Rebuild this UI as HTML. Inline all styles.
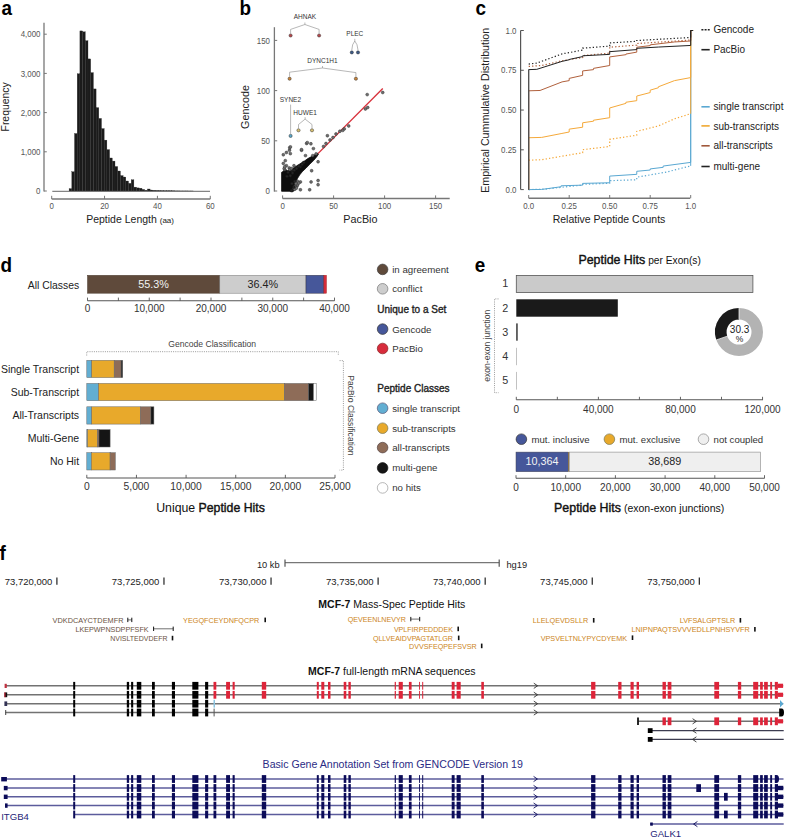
<!DOCTYPE html>
<html><head><meta charset="utf-8"><style>
html,body{margin:0;padding:0;background:#fff;}
svg{display:block;font-family:"Liberation Sans",sans-serif;}
</style></head><body>
<svg width="785" height="837" viewBox="0 0 785 837">
<rect width="785" height="837" fill="#fff"/>
<text transform="translate(1.50,15.30) scale(0.9,1)" font-size="21" fill="#000" text-anchor="start" font-weight="bold" >a</text><text transform="translate(239.50,15.30) scale(0.9,1)" font-size="21" fill="#000" text-anchor="start" font-weight="bold" >b</text><text transform="translate(475.50,15.20) scale(0.9,1)" font-size="21" fill="#000" text-anchor="start" font-weight="bold" >c</text><text transform="translate(0.50,272.20) scale(0.9,1)" font-size="21" fill="#000" text-anchor="start" font-weight="bold" >d</text><text transform="translate(474.80,272.00) scale(0.9,1)" font-size="21" fill="#000" text-anchor="start" font-weight="bold" >e</text><text transform="translate(-0.50,560.20) scale(0.9,1)" font-size="21" fill="#000" text-anchor="start" font-weight="bold" >f</text><line x1="44.00" y1="22.80" x2="44.00" y2="191.60" stroke="#777" stroke-width="1.3" /><line x1="44.00" y1="191.00" x2="46.80" y2="191.00" stroke="#777" stroke-width="1" /><text transform="translate(40.50,194.20) scale(0.88,1)" font-size="9" fill="#555" text-anchor="end" font-weight="normal" >0</text><line x1="44.00" y1="151.80" x2="46.80" y2="151.80" stroke="#777" stroke-width="1" /><text transform="translate(40.50,155.00) scale(0.88,1)" font-size="9" fill="#555" text-anchor="end" font-weight="normal" >1,000</text><line x1="44.00" y1="112.60" x2="46.80" y2="112.60" stroke="#777" stroke-width="1" /><text transform="translate(40.50,115.80) scale(0.88,1)" font-size="9" fill="#555" text-anchor="end" font-weight="normal" >2,000</text><line x1="44.00" y1="73.40" x2="46.80" y2="73.40" stroke="#777" stroke-width="1" /><text transform="translate(40.50,76.60) scale(0.88,1)" font-size="9" fill="#555" text-anchor="end" font-weight="normal" >3,000</text><line x1="44.00" y1="34.20" x2="46.80" y2="34.20" stroke="#777" stroke-width="1" /><text transform="translate(40.50,37.40) scale(0.88,1)" font-size="9" fill="#555" text-anchor="end" font-weight="normal" >4,000</text><rect x="69.10" y="188.65" width="2.70" height="2.35" fill="#1b1b1b" stroke="#303030" stroke-width="0.3" /><rect x="71.80" y="171.71" width="2.70" height="19.29" fill="#1b1b1b" stroke="#303030" stroke-width="0.3" /><rect x="74.50" y="133.49" width="2.70" height="57.51" fill="#1b1b1b" stroke="#303030" stroke-width="0.3" /><rect x="77.20" y="73.79" width="2.70" height="117.21" fill="#1b1b1b" stroke="#303030" stroke-width="0.3" /><rect x="79.90" y="30.91" width="2.70" height="160.09" fill="#1b1b1b" stroke="#303030" stroke-width="0.3" /><rect x="82.60" y="31.81" width="2.70" height="159.19" fill="#1b1b1b" stroke="#303030" stroke-width="0.3" /><rect x="85.30" y="40.71" width="2.70" height="150.29" fill="#1b1b1b" stroke="#303030" stroke-width="0.3" /><rect x="88.00" y="58.90" width="2.70" height="132.10" fill="#1b1b1b" stroke="#303030" stroke-width="0.3" /><rect x="90.70" y="72.62" width="2.70" height="118.38" fill="#1b1b1b" stroke="#303030" stroke-width="0.3" /><rect x="93.40" y="88.92" width="2.70" height="102.08" fill="#1b1b1b" stroke="#303030" stroke-width="0.3" /><rect x="96.10" y="107.62" width="2.70" height="83.38" fill="#1b1b1b" stroke="#303030" stroke-width="0.3" /><rect x="98.80" y="118.40" width="2.70" height="72.60" fill="#1b1b1b" stroke="#303030" stroke-width="0.3" /><rect x="101.50" y="128.59" width="2.70" height="62.41" fill="#1b1b1b" stroke="#303030" stroke-width="0.3" /><rect x="104.20" y="140.12" width="2.70" height="50.88" fill="#1b1b1b" stroke="#303030" stroke-width="0.3" /><rect x="106.90" y="149.60" width="2.70" height="41.40" fill="#1b1b1b" stroke="#303030" stroke-width="0.3" /><rect x="109.60" y="157.99" width="2.70" height="33.01" fill="#1b1b1b" stroke="#303030" stroke-width="0.3" /><rect x="112.30" y="161.09" width="2.70" height="29.91" fill="#1b1b1b" stroke="#303030" stroke-width="0.3" /><rect x="115.00" y="166.50" width="2.70" height="24.50" fill="#1b1b1b" stroke="#303030" stroke-width="0.3" /><rect x="117.70" y="171.01" width="2.70" height="19.99" fill="#1b1b1b" stroke="#303030" stroke-width="0.3" /><rect x="120.40" y="175.59" width="2.70" height="15.41" fill="#1b1b1b" stroke="#303030" stroke-width="0.3" /><rect x="123.10" y="177.01" width="2.70" height="13.99" fill="#1b1b1b" stroke="#303030" stroke-width="0.3" /><rect x="125.80" y="181.00" width="2.70" height="10.00" fill="#1b1b1b" stroke="#303030" stroke-width="0.3" /><rect x="128.50" y="183.32" width="2.70" height="7.68" fill="#1b1b1b" stroke="#303030" stroke-width="0.3" /><rect x="131.20" y="179.79" width="2.70" height="11.21" fill="#1b1b1b" stroke="#303030" stroke-width="0.3" /><rect x="133.90" y="187.12" width="2.70" height="3.88" fill="#1b1b1b" stroke="#303030" stroke-width="0.3" /><rect x="136.60" y="187.90" width="2.70" height="3.10" fill="#1b1b1b" stroke="#303030" stroke-width="0.3" /><rect x="139.30" y="188.22" width="2.70" height="2.78" fill="#1b1b1b" stroke="#303030" stroke-width="0.3" /><rect x="142.00" y="189.39" width="2.70" height="1.61" fill="#1b1b1b" stroke="#303030" stroke-width="0.3" /><rect x="144.70" y="190.22" width="2.70" height="0.78" fill="#1b1b1b" stroke="#303030" stroke-width="0.3" /><rect x="147.40" y="189.00" width="2.70" height="2.00" fill="#1b1b1b" stroke="#303030" stroke-width="0.3" /><rect x="150.10" y="190.02" width="2.70" height="0.98" fill="#1b1b1b" stroke="#303030" stroke-width="0.3" /><rect x="152.80" y="190.29" width="2.70" height="0.71" fill="#1b1b1b" stroke="#303030" stroke-width="0.3" /><rect x="155.50" y="190.45" width="2.70" height="0.55" fill="#1b1b1b" stroke="#303030" stroke-width="0.3" /><rect x="158.20" y="190.57" width="2.70" height="0.43" fill="#1b1b1b" stroke="#303030" stroke-width="0.3" /><rect x="160.90" y="190.65" width="2.70" height="0.35" fill="#1b1b1b" stroke="#303030" stroke-width="0.3" /><rect x="163.60" y="190.73" width="2.70" height="0.27" fill="#1b1b1b" stroke="#303030" stroke-width="0.3" /><rect x="166.30" y="190.76" width="2.70" height="0.24" fill="#1b1b1b" stroke="#303030" stroke-width="0.3" /><rect x="169.00" y="190.80" width="2.70" height="0.20" fill="#1b1b1b" stroke="#303030" stroke-width="0.3" /><rect x="171.70" y="190.84" width="2.70" height="0.16" fill="#1b1b1b" stroke="#303030" stroke-width="0.3" /><rect x="174.40" y="190.88" width="2.70" height="0.12" fill="#1b1b1b" stroke="#303030" stroke-width="0.3" /><rect x="177.10" y="190.88" width="2.70" height="0.12" fill="#1b1b1b" stroke="#303030" stroke-width="0.3" /><rect x="179.80" y="190.92" width="2.70" height="0.08" fill="#1b1b1b" stroke="#303030" stroke-width="0.3" /><rect x="182.50" y="190.92" width="2.70" height="0.08" fill="#1b1b1b" stroke="#303030" stroke-width="0.3" /><rect x="185.20" y="190.92" width="2.70" height="0.08" fill="#1b1b1b" stroke="#303030" stroke-width="0.3" /><rect x="187.90" y="190.96" width="2.70" height="0.04" fill="#1b1b1b" stroke="#303030" stroke-width="0.3" /><rect x="190.60" y="190.96" width="2.70" height="0.04" fill="#1b1b1b" stroke="#303030" stroke-width="0.3" /><line x1="52.30" y1="191.30" x2="210.00" y2="191.30" stroke="#555" stroke-width="0.9" /><line x1="51.70" y1="199.00" x2="210.30" y2="199.00" stroke="#777" stroke-width="1.4" /><line x1="51.70" y1="199.00" x2="51.70" y2="195.80" stroke="#777" stroke-width="1" /><text transform="translate(51.70,209.20) scale(0.88,1)" font-size="9" fill="#555" text-anchor="middle" font-weight="normal" >0</text><line x1="104.56" y1="199.00" x2="104.56" y2="195.80" stroke="#777" stroke-width="1" /><text transform="translate(104.56,209.20) scale(0.88,1)" font-size="9" fill="#555" text-anchor="middle" font-weight="normal" >20</text><line x1="157.42" y1="199.00" x2="157.42" y2="195.80" stroke="#777" stroke-width="1" /><text transform="translate(157.42,209.20) scale(0.88,1)" font-size="9" fill="#555" text-anchor="middle" font-weight="normal" >40</text><line x1="210.28" y1="199.00" x2="210.28" y2="195.80" stroke="#777" stroke-width="1" /><text transform="translate(210.28,209.20) scale(0.88,1)" font-size="9" fill="#555" text-anchor="middle" font-weight="normal" >60</text><text x="86.2" y="222.6" font-size="10.5" fill="#222">Peptide Length <tspan font-size="8">(aa)</tspan></text><text x="0.00" y="0.00" font-size="10.4" fill="#222" text-anchor="middle" font-weight="normal" transform="translate(8.7,106.9) rotate(-90)">Frequency</text><line x1="274.40" y1="27.20" x2="274.40" y2="191.60" stroke="#777" stroke-width="1.3" /><line x1="274.40" y1="191.00" x2="277.20" y2="191.00" stroke="#777" stroke-width="1" /><text transform="translate(270.00,194.20) scale(0.88,1)" font-size="9" fill="#555" text-anchor="end" font-weight="normal" >0</text><line x1="274.40" y1="140.80" x2="277.20" y2="140.80" stroke="#777" stroke-width="1" /><text transform="translate(270.00,144.00) scale(0.88,1)" font-size="9" fill="#555" text-anchor="end" font-weight="normal" >50</text><line x1="274.40" y1="90.60" x2="277.20" y2="90.60" stroke="#777" stroke-width="1" /><text transform="translate(270.00,93.80) scale(0.88,1)" font-size="9" fill="#555" text-anchor="end" font-weight="normal" >100</text><line x1="274.40" y1="40.40" x2="277.20" y2="40.40" stroke="#777" stroke-width="1" /><text transform="translate(270.00,43.60) scale(0.88,1)" font-size="9" fill="#555" text-anchor="end" font-weight="normal" >150</text><line x1="282.60" y1="198.60" x2="449.70" y2="198.60" stroke="#777" stroke-width="1.5" /><line x1="282.60" y1="198.60" x2="282.60" y2="195.40" stroke="#777" stroke-width="1" /><text transform="translate(282.60,208.80) scale(0.88,1)" font-size="9" fill="#555" text-anchor="middle" font-weight="normal" >0</text><line x1="333.60" y1="198.60" x2="333.60" y2="195.40" stroke="#777" stroke-width="1" /><text transform="translate(333.60,208.80) scale(0.88,1)" font-size="9" fill="#555" text-anchor="middle" font-weight="normal" >50</text><line x1="384.60" y1="198.60" x2="384.60" y2="195.40" stroke="#777" stroke-width="1" /><text transform="translate(384.60,208.80) scale(0.88,1)" font-size="9" fill="#555" text-anchor="middle" font-weight="normal" >100</text><line x1="435.60" y1="198.60" x2="435.60" y2="195.40" stroke="#777" stroke-width="1" /><text transform="translate(435.60,208.80) scale(0.88,1)" font-size="9" fill="#555" text-anchor="middle" font-weight="normal" >150</text><text x="360.40" y="222.50" font-size="10.8" fill="#222" text-anchor="middle" font-weight="normal" >PacBio</text><text x="0.00" y="0.00" font-size="10.8" fill="#222" text-anchor="middle" font-weight="normal" transform="translate(249.1,107) rotate(-90)">Gencode</text><line x1="282.60" y1="189.09" x2="382.76" y2="88.53" stroke="#d8303a" stroke-width="1.3" /><polygon points="281.6,191.3 281.6,172.3 282.8,171.6 285.1,169.4 287.4,170.6 290.5,170.2 294.4,167.3 298.3,164.9 302.2,162.4 304.8,160.8 307.8,158.6 311.5,156.6 314.5,154.8 317.4,153.4 318.4,154.2 317.0,156.4 313.8,160.3 309.9,164.1 306.1,168.0 302.2,171.8 299.6,175.0 297.6,178.3 295.6,182.6 294.2,187.2 292.6,191.3" fill="#0e0e0e" stroke="#0e0e0e" stroke-width="0.8"/><circle cx="283.33" cy="154.76" r="1.45" fill="#6e6e6e" stroke="#2a2a2a" stroke-width="0.45" /><circle cx="286.41" cy="152.52" r="1.45" fill="#6e6e6e" stroke="#2a2a2a" stroke-width="0.45" /><circle cx="290.33" cy="153.64" r="1.45" fill="#6e6e6e" stroke="#2a2a2a" stroke-width="0.45" /><circle cx="289.49" cy="150.28" r="1.45" fill="#6e6e6e" stroke="#2a2a2a" stroke-width="0.45" /><circle cx="301.54" cy="150.28" r="1.45" fill="#6e6e6e" stroke="#2a2a2a" stroke-width="0.45" /><circle cx="305.47" cy="155.61" r="1.45" fill="#6e6e6e" stroke="#2a2a2a" stroke-width="0.45" /><circle cx="312.75" cy="155.61" r="1.45" fill="#6e6e6e" stroke="#2a2a2a" stroke-width="0.45" /><circle cx="316.12" cy="153.92" r="1.45" fill="#6e6e6e" stroke="#2a2a2a" stroke-width="0.45" /><circle cx="285.29" cy="160.65" r="1.45" fill="#6e6e6e" stroke="#2a2a2a" stroke-width="0.45" /><circle cx="283.33" cy="163.45" r="1.45" fill="#6e6e6e" stroke="#2a2a2a" stroke-width="0.45" /><circle cx="286.41" cy="165.70" r="1.45" fill="#6e6e6e" stroke="#2a2a2a" stroke-width="0.45" /><circle cx="293.98" cy="165.70" r="1.45" fill="#6e6e6e" stroke="#2a2a2a" stroke-width="0.45" /><circle cx="289.21" cy="167.94" r="1.45" fill="#6e6e6e" stroke="#2a2a2a" stroke-width="0.45" /><circle cx="303.78" cy="162.61" r="1.45" fill="#262626" stroke="#111" stroke-width="0.45" /><circle cx="302.10" cy="164.57" r="1.45" fill="#262626" stroke="#111" stroke-width="0.45" /><circle cx="300.42" cy="166.82" r="1.45" fill="#262626" stroke="#111" stroke-width="0.45" /><circle cx="284.73" cy="169.62" r="1.45" fill="#6e6e6e" stroke="#2a2a2a" stroke-width="0.45" /><circle cx="292.01" cy="170.74" r="1.45" fill="#262626" stroke="#111" stroke-width="0.45" /><circle cx="290.33" cy="175.78" r="1.45" fill="#262626" stroke="#111" stroke-width="0.45" /><circle cx="311.63" cy="170.74" r="1.45" fill="#6e6e6e" stroke="#2a2a2a" stroke-width="0.45" /><circle cx="318.08" cy="161.77" r="1.45" fill="#6e6e6e" stroke="#2a2a2a" stroke-width="0.45" /><circle cx="311.07" cy="181.95" r="1.45" fill="#6e6e6e" stroke="#2a2a2a" stroke-width="0.45" /><circle cx="318.08" cy="180.55" r="1.45" fill="#6e6e6e" stroke="#2a2a2a" stroke-width="0.45" /><circle cx="318.08" cy="184.75" r="1.45" fill="#6e6e6e" stroke="#2a2a2a" stroke-width="0.45" /><circle cx="300.42" cy="181.95" r="1.45" fill="#6e6e6e" stroke="#2a2a2a" stroke-width="0.45" /><circle cx="297.62" cy="181.39" r="1.45" fill="#6e6e6e" stroke="#2a2a2a" stroke-width="0.45" /><circle cx="297.06" cy="185.87" r="1.45" fill="#6e6e6e" stroke="#2a2a2a" stroke-width="0.45" /><circle cx="293.70" cy="189.24" r="1.45" fill="#6e6e6e" stroke="#2a2a2a" stroke-width="0.45" /><circle cx="300.42" cy="189.80" r="1.45" fill="#6e6e6e" stroke="#2a2a2a" stroke-width="0.45" /><circle cx="309.67" cy="189.80" r="1.45" fill="#6e6e6e" stroke="#2a2a2a" stroke-width="0.45" /><circle cx="294.82" cy="186.43" r="1.45" fill="#6e6e6e" stroke="#2a2a2a" stroke-width="0.45" /><circle cx="288.09" cy="172.42" r="1.45" fill="#262626" stroke="#111" stroke-width="0.45" /><circle cx="292.57" cy="172.98" r="1.45" fill="#262626" stroke="#111" stroke-width="0.45" /><circle cx="296.50" cy="168.50" r="1.45" fill="#262626" stroke="#111" stroke-width="0.45" /><circle cx="289.77" cy="169.62" r="1.45" fill="#6e6e6e" stroke="#2a2a2a" stroke-width="0.45" /><circle cx="286.97" cy="176.35" r="1.45" fill="#262626" stroke="#111" stroke-width="0.45" /><circle cx="294.82" cy="181.39" r="1.45" fill="#262626" stroke="#111" stroke-width="0.45" /><circle cx="292.01" cy="183.63" r="1.45" fill="#262626" stroke="#111" stroke-width="0.45" /><circle cx="284.17" cy="168.50" r="1.45" fill="#6e6e6e" stroke="#2a2a2a" stroke-width="0.45" /><circle cx="291.45" cy="168.50" r="1.45" fill="#6e6e6e" stroke="#2a2a2a" stroke-width="0.45" /><circle cx="294.26" cy="170.18" r="1.45" fill="#262626" stroke="#111" stroke-width="0.45" /><circle cx="298.74" cy="166.26" r="1.45" fill="#262626" stroke="#111" stroke-width="0.45" /><circle cx="284.73" cy="166.82" r="1.45" fill="#6e6e6e" stroke="#2a2a2a" stroke-width="0.45" /><circle cx="292.57" cy="190.36" r="1.45" fill="#262626" stroke="#111" stroke-width="0.45" /><circle cx="294.82" cy="189.24" r="1.45" fill="#6e6e6e" stroke="#2a2a2a" stroke-width="0.45" /><circle cx="296.50" cy="188.12" r="1.45" fill="#6e6e6e" stroke="#2a2a2a" stroke-width="0.45" /><circle cx="293.70" cy="187.00" r="1.45" fill="#262626" stroke="#111" stroke-width="0.45" /><circle cx="297.62" cy="184.75" r="1.45" fill="#6e6e6e" stroke="#2a2a2a" stroke-width="0.45" /><circle cx="295.94" cy="183.63" r="1.45" fill="#6e6e6e" stroke="#2a2a2a" stroke-width="0.45" /><circle cx="298.74" cy="183.07" r="1.45" fill="#6e6e6e" stroke="#2a2a2a" stroke-width="0.45" /><circle cx="291.45" cy="190.64" r="1.45" fill="#262626" stroke="#111" stroke-width="0.45" /><circle cx="327.40" cy="135.70" r="1.45" fill="#6e6e6e" stroke="#2a2a2a" stroke-width="0.45" /><circle cx="306.60" cy="143.50" r="1.45" fill="#6e6e6e" stroke="#2a2a2a" stroke-width="0.45" /><circle cx="307.30" cy="142.60" r="1.45" fill="#6e6e6e" stroke="#2a2a2a" stroke-width="0.45" /><circle cx="310.90" cy="143.80" r="1.45" fill="#6e6e6e" stroke="#2a2a2a" stroke-width="0.45" /><circle cx="289.70" cy="147.80" r="1.45" fill="#6e6e6e" stroke="#2a2a2a" stroke-width="0.45" /><circle cx="290.40" cy="146.90" r="1.45" fill="#6e6e6e" stroke="#2a2a2a" stroke-width="0.45" /><circle cx="313.40" cy="148.60" r="1.45" fill="#6e6e6e" stroke="#2a2a2a" stroke-width="0.45" /><circle cx="301.50" cy="149.60" r="1.45" fill="#6e6e6e" stroke="#2a2a2a" stroke-width="0.45" /><circle cx="367.20" cy="94.60" r="1.45" fill="#6e6e6e" stroke="#2a2a2a" stroke-width="0.45" /><circle cx="382.70" cy="92.50" r="1.45" fill="#6e6e6e" stroke="#2a2a2a" stroke-width="0.45" /><circle cx="365.40" cy="109.00" r="1.45" fill="#6e6e6e" stroke="#2a2a2a" stroke-width="0.45" /><circle cx="367.70" cy="107.50" r="1.45" fill="#6e6e6e" stroke="#2a2a2a" stroke-width="0.45" /><circle cx="348.70" cy="126.00" r="1.45" fill="#6e6e6e" stroke="#2a2a2a" stroke-width="0.45" /><circle cx="344.30" cy="128.90" r="1.45" fill="#6e6e6e" stroke="#2a2a2a" stroke-width="0.45" /><circle cx="342.80" cy="130.40" r="1.45" fill="#6e6e6e" stroke="#2a2a2a" stroke-width="0.45" /><circle cx="339.90" cy="131.30" r="1.45" fill="#6e6e6e" stroke="#2a2a2a" stroke-width="0.45" /><circle cx="336.00" cy="134.00" r="1.45" fill="#6e6e6e" stroke="#2a2a2a" stroke-width="0.45" /><circle cx="333.00" cy="137.50" r="1.45" fill="#6e6e6e" stroke="#2a2a2a" stroke-width="0.45" /><circle cx="330.00" cy="140.00" r="1.45" fill="#6e6e6e" stroke="#2a2a2a" stroke-width="0.45" /><circle cx="326.00" cy="143.50" r="1.45" fill="#6e6e6e" stroke="#2a2a2a" stroke-width="0.45" /><circle cx="323.50" cy="146.50" r="1.45" fill="#6e6e6e" stroke="#2a2a2a" stroke-width="0.45" /><text transform="translate(304.90,19.40) scale(0.93,1)" font-size="7" fill="#333" text-anchor="middle" font-weight="normal" >AHNAK</text><polyline points="290.6,33.5 290.6,29.4 304.9,24.5 319.1,29.4 319.1,33.5" fill="none" stroke="#888" stroke-width="0.6"/><line x1="304.90" y1="24.50" x2="304.90" y2="22.50" stroke="#888" stroke-width="0.6" /><circle cx="290.60" cy="35.50" r="1.6" fill="#b5474a" stroke="#333" stroke-width="0.5" /><circle cx="319.10" cy="35.50" r="1.6" fill="#b5474a" stroke="#333" stroke-width="0.5" /><text transform="translate(354.80,36.20) scale(0.93,1)" font-size="7" fill="#333" text-anchor="middle" font-weight="normal" >PLEC</text><path d="M354.8,38.8 L354.8,41 Q352,44 351.8,50 M354.8,41 Q357.6,44 358,50" fill="none" stroke="#888" stroke-width="0.6"/><circle cx="351.80" cy="52.40" r="1.6" fill="#3c5a88" stroke="#333" stroke-width="0.5" /><circle cx="358.00" cy="52.40" r="1.6" fill="#3c5a88" stroke="#333" stroke-width="0.5" /><text transform="translate(322.50,63.00) scale(0.93,1)" font-size="7" fill="#333" text-anchor="middle" font-weight="normal" >DYNC1H1</text><polyline points="289.6,76.5 289.6,72.2 322.5,68 355.9,72.6 355.9,76.5" fill="none" stroke="#888" stroke-width="0.6"/><line x1="322.50" y1="68.00" x2="322.50" y2="66.00" stroke="#888" stroke-width="0.6" /><circle cx="289.60" cy="78.70" r="1.6" fill="#c8843a" stroke="#333" stroke-width="0.5" /><circle cx="355.90" cy="78.70" r="1.6" fill="#c8843a" stroke="#333" stroke-width="0.5" /><text transform="translate(290.40,102.00) scale(0.93,1)" font-size="7" fill="#333" text-anchor="middle" font-weight="normal" >SYNE2</text><line x1="290.60" y1="104.60" x2="290.60" y2="133.80" stroke="#888" stroke-width="0.6" /><circle cx="290.60" cy="135.90" r="1.6" fill="#5aa6c8" stroke="#333" stroke-width="0.5" /><text transform="translate(305.10,114.50) scale(0.93,1)" font-size="7" fill="#333" text-anchor="middle" font-weight="normal" >HUWE1</text><polyline points="298.5,128.3 298.5,124.5 305.1,119.1 312,124.5 312,128.3" fill="none" stroke="#888" stroke-width="0.6"/><line x1="305.10" y1="119.10" x2="305.10" y2="117.20" stroke="#888" stroke-width="0.6" /><circle cx="298.50" cy="130.30" r="1.6" fill="#d8c070" stroke="#333" stroke-width="0.5" /><circle cx="312.00" cy="130.30" r="1.6" fill="#d8c070" stroke="#333" stroke-width="0.5" /><line x1="520.60" y1="30.50" x2="520.60" y2="189.60" stroke="#555" stroke-width="1.2" /><line x1="520.60" y1="189.60" x2="523.80" y2="189.60" stroke="#555" stroke-width="1" /><text transform="translate(516.50,192.80) scale(0.88,1)" font-size="9" fill="#555" text-anchor="end" font-weight="normal" >0.0</text><line x1="520.60" y1="149.82" x2="523.80" y2="149.82" stroke="#555" stroke-width="1" /><text transform="translate(516.50,153.02) scale(0.88,1)" font-size="9" fill="#555" text-anchor="end" font-weight="normal" >0.25</text><line x1="520.60" y1="110.05" x2="523.80" y2="110.05" stroke="#555" stroke-width="1" /><text transform="translate(516.50,113.25) scale(0.88,1)" font-size="9" fill="#555" text-anchor="end" font-weight="normal" >0.50</text><line x1="520.60" y1="70.28" x2="523.80" y2="70.28" stroke="#555" stroke-width="1" /><text transform="translate(516.50,73.48) scale(0.88,1)" font-size="9" fill="#555" text-anchor="end" font-weight="normal" >0.75</text><line x1="520.60" y1="30.50" x2="523.80" y2="30.50" stroke="#555" stroke-width="1" /><text transform="translate(516.50,33.70) scale(0.88,1)" font-size="9" fill="#555" text-anchor="end" font-weight="normal" >1.0</text><line x1="528.70" y1="198.20" x2="690.20" y2="198.20" stroke="#777" stroke-width="1.4" /><line x1="528.70" y1="198.20" x2="528.70" y2="195.00" stroke="#777" stroke-width="1" /><text transform="translate(528.70,208.80) scale(0.88,1)" font-size="9" fill="#555" text-anchor="middle" font-weight="normal" >0.0</text><line x1="569.20" y1="198.20" x2="569.20" y2="195.00" stroke="#777" stroke-width="1" /><text transform="translate(569.20,208.80) scale(0.88,1)" font-size="9" fill="#555" text-anchor="middle" font-weight="normal" >0.25</text><line x1="609.70" y1="198.20" x2="609.70" y2="195.00" stroke="#777" stroke-width="1" /><text transform="translate(609.70,208.80) scale(0.88,1)" font-size="9" fill="#555" text-anchor="middle" font-weight="normal" >0.50</text><line x1="650.20" y1="198.20" x2="650.20" y2="195.00" stroke="#777" stroke-width="1" /><text transform="translate(650.20,208.80) scale(0.88,1)" font-size="9" fill="#555" text-anchor="middle" font-weight="normal" >0.75</text><line x1="690.70" y1="198.20" x2="690.70" y2="195.00" stroke="#777" stroke-width="1" /><text transform="translate(690.70,208.80) scale(0.88,1)" font-size="9" fill="#555" text-anchor="middle" font-weight="normal" >1.0</text><text x="609.00" y="222.60" font-size="10.5" fill="#222" text-anchor="middle" font-weight="normal" >Relative Peptide Counts</text><text x="0.00" y="0.00" font-size="10.65" fill="#222" text-anchor="middle" font-weight="normal" transform="translate(489.2,110.3) rotate(-90)">Empirical Cummulative Distribution</text><line x1="690.70" y1="165.89" x2="690.70" y2="30.50" stroke="#5aa8d2" stroke-width="1"/><polyline points="528.70,189.60 544.90,189.12 569.20,186.42 582.65,185.15 582.65,184.35 609.70,183.24 609.70,180.69 636.75,179.74 636.75,177.19 666.40,172.10 690.70,165.89" fill="none" stroke="#5aa8d2" stroke-width="1.2" stroke-dasharray="1.3,2.1"/><polyline points="528.70,189.60 528.70,189.60 541.66,189.44 561.10,186.74 561.10,185.78 582.65,185.15 582.65,183.40 609.70,182.76 609.70,176.08 636.75,174.33 636.75,171.30 650.20,170.03 650.20,168.92 663.16,167.33 663.16,166.05 690.70,162.39 690.70,30.50 693.13,30.50" fill="none" stroke="#5aa8d2" stroke-width="1.0" /><line x1="690.70" y1="113.71" x2="690.70" y2="30.50" stroke="#f5a93a" stroke-width="1"/><polyline points="528.70,160.17 541.66,159.69 582.65,152.69 582.65,149.67 609.70,146.48 609.70,139.32 636.75,135.19 636.75,131.37 658.30,125.96 674.50,118.80 690.70,113.71" fill="none" stroke="#f5a93a" stroke-width="1.2" stroke-dasharray="1.3,2.1"/><polyline points="528.70,189.60 528.70,137.73 541.66,137.42 561.10,133.60 569.20,132.01 569.20,129.14 582.65,127.23 582.65,122.78 593.50,121.19 593.50,120.23 609.70,117.69 609.70,107.98 625.90,103.37 625.90,102.25 636.75,100.66 636.75,96.05 650.20,92.55 650.20,90.16 658.30,87.78 658.30,86.82 674.50,80.62 690.70,77.59 690.70,30.50 693.13,30.50" fill="none" stroke="#f5a93a" stroke-width="1.0" /><line x1="690.70" y1="40.05" x2="690.70" y2="30.50" stroke="#b0603c" stroke-width="1"/><polyline points="528.70,66.46 541.66,65.50 562.07,60.73 582.65,57.55 582.65,55.64 609.70,53.09 609.70,47.21 636.75,45.14 636.75,43.55 690.70,40.05" fill="none" stroke="#b0603c" stroke-width="1.2" stroke-dasharray="1.3,2.1"/><polyline points="528.70,189.60 528.70,90.80 540.04,90.48 562.07,81.89 569.20,80.62 569.20,78.39 582.65,75.37 582.65,70.91 593.50,69.64 593.50,68.37 609.70,65.50 609.70,56.91 625.90,54.68 625.90,54.05 636.75,52.14 636.75,47.21 650.20,45.61 650.20,44.82 674.50,41.96 690.70,41.00 690.70,30.50 693.13,30.50" fill="none" stroke="#b0603c" stroke-width="1.0" /><line x1="690.70" y1="37.50" x2="690.70" y2="30.50" stroke="#222" stroke-width="1"/><polyline points="528.70,64.07 536.80,63.12 562.07,53.89 582.65,50.07 582.65,48.16 609.70,46.09 609.70,42.91 636.75,41.32 636.75,40.52 690.70,37.50" fill="none" stroke="#222" stroke-width="1.2" stroke-dasharray="1.3,2.1"/><polyline points="528.70,189.60 528.70,69.64 536.80,69.32 562.07,61.37 569.20,59.77 569.20,59.46 582.65,56.59 582.65,55.80 609.70,54.37 609.70,51.66 636.75,49.59 636.75,48.32 658.30,47.05 690.70,45.46 690.70,30.50 693.13,30.50" fill="none" stroke="#222" stroke-width="1.0" /><line x1="528.70" y1="189.60" x2="528.70" y2="69.64" stroke="#555" stroke-width="1.0" /><line x1="701.4" y1="29.8" x2="709.7" y2="29.8" stroke="#222" stroke-width="1.5" stroke-dasharray="2,1.2"/><text x="713.40" y="33.40" font-size="10" fill="#222" text-anchor="start" font-weight="normal" >Gencode</text><line x1="701.40" y1="49.70" x2="709.70" y2="49.70" stroke="#222" stroke-width="1.6" /><text x="713.40" y="53.30" font-size="10" fill="#222" text-anchor="start" font-weight="normal" >PacBio</text><line x1="701.40" y1="106.80" x2="709.70" y2="106.80" stroke="#5aa8d2" stroke-width="1.6" /><text x="713.40" y="110.40" font-size="10" fill="#222" text-anchor="start" font-weight="normal" >single transcript</text><line x1="701.40" y1="125.90" x2="709.70" y2="125.90" stroke="#f0a830" stroke-width="1.6" /><text x="713.40" y="129.50" font-size="10" fill="#222" text-anchor="start" font-weight="normal" >sub-transcripts</text><line x1="701.40" y1="145.80" x2="709.70" y2="145.80" stroke="#a0583a" stroke-width="1.6" /><text x="713.40" y="149.40" font-size="10" fill="#222" text-anchor="start" font-weight="normal" >all-transcripts</text><line x1="701.40" y1="166.50" x2="709.70" y2="166.50" stroke="#222" stroke-width="1.6" /><text x="713.40" y="170.10" font-size="10" fill="#222" text-anchor="start" font-weight="normal" >multi-gene</text>
<text x="79.20" y="289.00" font-size="10.4" fill="#222" text-anchor="end" font-weight="normal" >All Classes</text><rect x="87.50" y="275.30" width="132.30" height="17.90" fill="#5f4a3b" stroke="#4a3a2e" stroke-width="0.5" /><rect x="219.80" y="275.30" width="86.20" height="17.90" fill="#cdcdcd" stroke="#777" stroke-width="0.5" /><rect x="306.00" y="275.30" width="17.90" height="17.90" fill="#46579a" stroke="#334" stroke-width="0.5" /><rect x="323.90" y="275.30" width="2.50" height="17.90" fill="#d72c3c" stroke="#a22" stroke-width="0.5" /><text x="153.60" y="288.40" font-size="10.8" fill="#f2f2f2" text-anchor="middle" font-weight="normal" >55.3%</text><text x="262.90" y="288.40" font-size="10.8" fill="#222" text-anchor="middle" font-weight="normal" >36.4%</text><line x1="87.50" y1="300.80" x2="334.50" y2="300.80" stroke="#555" stroke-width="1.1" /><line x1="87.50" y1="300.80" x2="87.50" y2="297.60" stroke="#555" stroke-width="0.9" /><line x1="118.38" y1="300.80" x2="118.38" y2="297.60" stroke="#555" stroke-width="0.9" /><line x1="149.25" y1="300.80" x2="149.25" y2="297.60" stroke="#555" stroke-width="0.9" /><line x1="180.12" y1="300.80" x2="180.12" y2="297.60" stroke="#555" stroke-width="0.9" /><line x1="211.00" y1="300.80" x2="211.00" y2="297.60" stroke="#555" stroke-width="0.9" /><line x1="241.88" y1="300.80" x2="241.88" y2="297.60" stroke="#555" stroke-width="0.9" /><line x1="272.75" y1="300.80" x2="272.75" y2="297.60" stroke="#555" stroke-width="0.9" /><line x1="303.62" y1="300.80" x2="303.62" y2="297.60" stroke="#555" stroke-width="0.9" /><line x1="334.50" y1="300.80" x2="334.50" y2="297.60" stroke="#555" stroke-width="0.9" /><text x="87.50" y="312.20" font-size="10" fill="#333" text-anchor="middle" font-weight="normal" >0</text><text x="149.25" y="312.20" font-size="10" fill="#333" text-anchor="middle" font-weight="normal" >10,000</text><text x="211.00" y="312.20" font-size="10" fill="#333" text-anchor="middle" font-weight="normal" >20,000</text><text x="272.75" y="312.20" font-size="10" fill="#333" text-anchor="middle" font-weight="normal" >30,000</text><text x="334.50" y="312.20" font-size="10" fill="#333" text-anchor="middle" font-weight="normal" >40,000</text><rect x="86.80" y="360.30" width="4.90" height="17.30" fill="#62aed2" stroke="#666" stroke-width="0.5" /><rect x="91.70" y="360.30" width="22.50" height="17.30" fill="#e8a92b" stroke="#666" stroke-width="0.5" /><rect x="114.20" y="360.30" width="6.90" height="17.30" fill="#8e6c58" stroke="#666" stroke-width="0.5" /><rect x="121.10" y="360.30" width="1.60" height="17.30" fill="#151515" stroke="#666" stroke-width="0.5" /><text x="79.10" y="372.50" font-size="10.5" fill="#222" text-anchor="end" font-weight="normal" >Single Transcript</text><rect x="86.80" y="383.40" width="11.80" height="17.30" fill="#62aed2" stroke="#666" stroke-width="0.5" /><rect x="98.60" y="383.40" width="185.70" height="17.30" fill="#e8a92b" stroke="#666" stroke-width="0.5" /><rect x="284.30" y="383.40" width="24.20" height="17.30" fill="#8e6c58" stroke="#666" stroke-width="0.5" /><rect x="308.50" y="383.40" width="5.10" height="17.30" fill="#151515" stroke="#666" stroke-width="0.5" /><rect x="313.60" y="383.40" width="2.60" height="17.30" fill="#fff" stroke="#666" stroke-width="0.5" /><text x="79.10" y="395.60" font-size="10.5" fill="#222" text-anchor="end" font-weight="normal" >Sub-Transcript</text><rect x="86.80" y="406.80" width="4.90" height="17.30" fill="#62aed2" stroke="#666" stroke-width="0.5" /><rect x="91.70" y="406.80" width="48.60" height="17.30" fill="#e8a92b" stroke="#666" stroke-width="0.5" /><rect x="140.30" y="406.80" width="10.60" height="17.30" fill="#8e6c58" stroke="#666" stroke-width="0.5" /><rect x="150.90" y="406.80" width="3.00" height="17.30" fill="#151515" stroke="#666" stroke-width="0.5" /><text x="79.10" y="419.00" font-size="10.5" fill="#222" text-anchor="end" font-weight="normal" >All-Transcripts</text><rect x="86.80" y="429.70" width="0.80" height="17.30" fill="#62aed2" stroke="#666" stroke-width="0.5" /><rect x="87.60" y="429.70" width="9.90" height="17.30" fill="#e8a92b" stroke="#666" stroke-width="0.5" /><rect x="97.50" y="429.70" width="1.50" height="17.30" fill="#8e6c58" stroke="#666" stroke-width="0.5" /><rect x="99.00" y="429.70" width="11.10" height="17.30" fill="#151515" stroke="#666" stroke-width="0.5" /><text x="79.10" y="441.90" font-size="10.5" fill="#222" text-anchor="end" font-weight="normal" >Multi-Gene</text><rect x="86.80" y="452.70" width="4.50" height="17.30" fill="#62aed2" stroke="#666" stroke-width="0.5" /><rect x="91.30" y="452.70" width="18.80" height="17.30" fill="#e8a92b" stroke="#666" stroke-width="0.5" /><rect x="110.10" y="452.70" width="5.20" height="17.30" fill="#8e6c58" stroke="#666" stroke-width="0.5" /><text x="79.10" y="464.90" font-size="10.5" fill="#222" text-anchor="end" font-weight="normal" >No Hit</text><line x1="86.80" y1="478.00" x2="335.00" y2="478.00" stroke="#555" stroke-width="1.1" /><line x1="86.80" y1="478.00" x2="86.80" y2="474.80" stroke="#555" stroke-width="0.9" /><text x="86.80" y="490.40" font-size="10.3" fill="#333" text-anchor="middle" font-weight="normal" >0</text><line x1="136.44" y1="478.00" x2="136.44" y2="474.80" stroke="#555" stroke-width="0.9" /><text x="136.44" y="490.40" font-size="10.3" fill="#333" text-anchor="middle" font-weight="normal" >5,000</text><line x1="186.08" y1="478.00" x2="186.08" y2="474.80" stroke="#555" stroke-width="0.9" /><text x="186.08" y="490.40" font-size="10.3" fill="#333" text-anchor="middle" font-weight="normal" >10,000</text><line x1="235.72" y1="478.00" x2="235.72" y2="474.80" stroke="#555" stroke-width="0.9" /><text x="235.72" y="490.40" font-size="10.3" fill="#333" text-anchor="middle" font-weight="normal" >15,000</text><line x1="285.36" y1="478.00" x2="285.36" y2="474.80" stroke="#555" stroke-width="0.9" /><text x="285.36" y="490.40" font-size="10.3" fill="#333" text-anchor="middle" font-weight="normal" >20,000</text><line x1="335.00" y1="478.00" x2="335.00" y2="474.80" stroke="#555" stroke-width="0.9" /><text x="335.00" y="490.40" font-size="10.3" fill="#333" text-anchor="middle" font-weight="normal" >25,000</text><text x="156.2" y="511.6" font-size="12.3" fill="#111">Unique <tspan stroke="#111" stroke-width="0.4">Peptide Hits</tspan></text><polyline points="86.7,355.5 86.7,351.7 338.3,351.7 338.3,355.5" fill="none" stroke="#808080" stroke-width="0.8" stroke-dasharray="1,1.2"/><text x="212.20" y="347.00" font-size="8.6" fill="#444" text-anchor="middle" font-weight="normal" >Gencode Classification</text><polyline points="339.6,360.6 343.4,360.6 343.4,470.1 339.6,470.1" fill="none" stroke="#808080" stroke-width="0.8" stroke-dasharray="1,1.2"/><text x="0.00" y="0.00" font-size="8.6" fill="#444" text-anchor="middle" font-weight="normal" transform="translate(348.2,415.4) rotate(90)">PacBio Classification</text><circle cx="382.60" cy="269.40" r="5.3" fill="#5f4a3b" stroke="#444" stroke-width="0.7" /><text x="392.20" y="272.90" font-size="9.7" fill="#333" text-anchor="start" font-weight="normal" >in agreement</text><circle cx="382.60" cy="288.80" r="5.3" fill="#cdcdcd" stroke="#777" stroke-width="0.7" /><text x="392.20" y="292.30" font-size="9.7" fill="#333" text-anchor="start" font-weight="normal" >conflict</text><circle cx="382.60" cy="329.10" r="5.3" fill="#46579a" stroke="#333" stroke-width="0.7" /><text x="392.20" y="332.60" font-size="9.7" fill="#333" text-anchor="start" font-weight="normal" >Gencode</text><circle cx="382.60" cy="348.50" r="5.3" fill="#d72c3c" stroke="#822" stroke-width="0.7" /><text x="392.20" y="352.00" font-size="9.7" fill="#333" text-anchor="start" font-weight="normal" >PacBio</text><circle cx="382.60" cy="408.20" r="5.3" fill="#62aed2" stroke="#557" stroke-width="0.7" /><text x="392.20" y="411.70" font-size="9.7" fill="#333" text-anchor="start" font-weight="normal" >single transcript</text><circle cx="382.60" cy="428.20" r="5.3" fill="#e8a92b" stroke="#775" stroke-width="0.7" /><text x="392.20" y="431.70" font-size="9.7" fill="#333" text-anchor="start" font-weight="normal" >sub-transcripts</text><circle cx="382.60" cy="447.60" r="5.3" fill="#8e6c58" stroke="#544" stroke-width="0.7" /><text x="392.20" y="451.10" font-size="9.7" fill="#333" text-anchor="start" font-weight="normal" >all-transcripts</text><circle cx="382.60" cy="467.90" r="5.3" fill="#151515" stroke="#111" stroke-width="0.7" /><text x="392.20" y="471.40" font-size="9.7" fill="#333" text-anchor="start" font-weight="normal" >multi-gene</text><circle cx="382.60" cy="487.90" r="5.3" fill="#fff" stroke="#999" stroke-width="0.7" /><text x="392.20" y="491.40" font-size="9.7" fill="#333" text-anchor="start" font-weight="normal" >no hits</text><text x="377.30" y="312.70" font-size="10" fill="#222" text-anchor="start" font-weight="normal" stroke="#222" stroke-width="0.35">Unique to a Set</text><text x="377.30" y="391.50" font-size="10" fill="#222" text-anchor="start" font-weight="normal" stroke="#222" stroke-width="0.35">Peptide Classes</text><text x="578.4" y="263.6" font-size="12.4" fill="#111"><tspan stroke="#111" stroke-width="0.4">Peptide Hits</tspan><tspan font-size="10.2" dx="3">per Exon(s)</tspan></text><rect x="516.30" y="275.50" width="236.60" height="16.90" fill="#cacaca" stroke="#555" stroke-width="0.8" /><rect x="516.30" y="299.30" width="101.50" height="17.40" fill="#1a1a1a" stroke="none" stroke-width="0" /><rect x="516.30" y="323.40" width="1.30" height="17.30" fill="#1a1a1a" stroke="none" stroke-width="0" /><rect x="516.30" y="347.80" width="0.60" height="17.40" fill="#999" stroke="none" stroke-width="0" /><rect x="516.30" y="371.90" width="0.60" height="17.70" fill="#999" stroke="none" stroke-width="0" /><text x="505.30" y="287.00" font-size="10.8" fill="#333" text-anchor="middle" font-weight="normal" >1</text><text x="505.30" y="311.50" font-size="10.8" fill="#333" text-anchor="middle" font-weight="normal" >2</text><text x="505.30" y="336.00" font-size="10.8" fill="#333" text-anchor="middle" font-weight="normal" >3</text><text x="505.30" y="359.80" font-size="10.8" fill="#333" text-anchor="middle" font-weight="normal" >4</text><text x="505.30" y="383.90" font-size="10.8" fill="#333" text-anchor="middle" font-weight="normal" >5</text><polyline points="498.5,298.9 494.5,298.9 494.5,392.7 498.5,392.7" fill="none" stroke="#808080" stroke-width="0.8" stroke-dasharray="1,1.2"/><text x="0.00" y="0.00" font-size="8.6" fill="#444" text-anchor="middle" font-weight="normal" transform="translate(490.3,345.8) rotate(-90)">exon-exon junction</text><line x1="516.30" y1="399.80" x2="763.00" y2="399.80" stroke="#555" stroke-width="1.1" /><line x1="516.30" y1="399.80" x2="516.30" y2="396.80" stroke="#555" stroke-width="0.9" /><line x1="557.34" y1="399.80" x2="557.34" y2="396.80" stroke="#555" stroke-width="0.9" /><line x1="598.38" y1="399.80" x2="598.38" y2="396.80" stroke="#555" stroke-width="0.9" /><line x1="639.42" y1="399.80" x2="639.42" y2="396.80" stroke="#555" stroke-width="0.9" /><line x1="680.46" y1="399.80" x2="680.46" y2="396.80" stroke="#555" stroke-width="0.9" /><line x1="721.50" y1="399.80" x2="721.50" y2="396.80" stroke="#555" stroke-width="0.9" /><line x1="762.54" y1="399.80" x2="762.54" y2="396.80" stroke="#555" stroke-width="0.9" /><text x="516.30" y="412.60" font-size="10" fill="#333" text-anchor="middle" font-weight="normal" >0</text><text x="598.38" y="412.60" font-size="10" fill="#333" text-anchor="middle" font-weight="normal" >40,000</text><text x="680.46" y="412.60" font-size="10" fill="#333" text-anchor="middle" font-weight="normal" >80,000</text><text x="762.54" y="412.60" font-size="10" fill="#333" text-anchor="middle" font-weight="normal" >120,000</text><circle cx="739.00" cy="332.10" r="18.25" fill="none" stroke="#b3b3b3" stroke-width="11.5" /><path d="M739.00,313.85 A18.25,18.25 0 0 0 721.75,338.07" fill="none" stroke="#1a1a1a" stroke-width="11.5"/><line x1="739.00" y1="319.10" x2="739.00" y2="307.60" stroke="#fff" stroke-width="0.7" /><line x1="727.47" y1="336.09" x2="716.03" y2="340.04" stroke="#fff" stroke-width="0.7" /><text x="739.60" y="332.60" font-size="10" fill="#222" text-anchor="middle" font-weight="normal" >30.3</text><text x="739.60" y="342.00" font-size="8.5" fill="#222" text-anchor="middle" font-weight="normal" >%</text><circle cx="521.40" cy="439.20" r="5.3" fill="#46579a" stroke="#333" stroke-width="0.7" /><text x="531.50" y="443.00" font-size="9.6" fill="#333" text-anchor="start" font-weight="normal" >mut. inclusive</text><circle cx="609.40" cy="439.20" r="5.3" fill="#e8a92b" stroke="#775" stroke-width="0.7" /><text x="619.50" y="443.00" font-size="9.6" fill="#333" text-anchor="start" font-weight="normal" >mut. exclusive</text><circle cx="703.50" cy="439.20" r="5.3" fill="#efefef" stroke="#888" stroke-width="0.7" /><text x="713.60" y="443.00" font-size="9.6" fill="#333" text-anchor="start" font-weight="normal" >not coupled</text><rect x="516.00" y="452.10" width="52.30" height="19.60" fill="#46579a" stroke="#445" stroke-width="0.5" /><rect x="568.30" y="452.10" width="1.00" height="19.60" fill="#8a6a2a" stroke="none" stroke-width="0" /><rect x="569.30" y="452.10" width="191.30" height="19.60" fill="#efefef" stroke="#888" stroke-width="0.6" /><text x="541.90" y="465.20" font-size="10.8" fill="#f4f4f4" text-anchor="middle" font-weight="normal" >10,364</text><text x="664.70" y="465.20" font-size="10.8" fill="#222" text-anchor="middle" font-weight="normal" >38,689</text><line x1="516.00" y1="478.30" x2="764.50" y2="478.30" stroke="#555" stroke-width="1.1" /><line x1="516.00" y1="478.30" x2="516.00" y2="475.20" stroke="#555" stroke-width="0.9" /><text x="516.00" y="490.60" font-size="10" fill="#333" text-anchor="middle" font-weight="normal" >0</text><line x1="565.70" y1="478.30" x2="565.70" y2="475.20" stroke="#555" stroke-width="0.9" /><text x="565.70" y="490.60" font-size="10" fill="#333" text-anchor="middle" font-weight="normal" >10,000</text><line x1="615.40" y1="478.30" x2="615.40" y2="475.20" stroke="#555" stroke-width="0.9" /><text x="615.40" y="490.60" font-size="10" fill="#333" text-anchor="middle" font-weight="normal" >20,000</text><line x1="665.10" y1="478.30" x2="665.10" y2="475.20" stroke="#555" stroke-width="0.9" /><text x="665.10" y="490.60" font-size="10" fill="#333" text-anchor="middle" font-weight="normal" >30,000</text><line x1="714.80" y1="478.30" x2="714.80" y2="475.20" stroke="#555" stroke-width="0.9" /><text x="714.80" y="490.60" font-size="10" fill="#333" text-anchor="middle" font-weight="normal" >40,000</text><line x1="764.50" y1="478.30" x2="764.50" y2="475.20" stroke="#555" stroke-width="0.9" /><text x="764.50" y="490.60" font-size="10" fill="#333" text-anchor="middle" font-weight="normal" >50,000</text><text x="554.1" y="512.4" font-size="12.4" fill="#111"><tspan stroke="#111" stroke-width="0.4">Peptide Hits</tspan><tspan font-size="10.5" dx="3">(exon-exon junctions)</tspan></text>
<text x="279.70" y="567.60" font-size="9.3" fill="#222" text-anchor="end" font-weight="normal" >10 kb</text><line x1="285.00" y1="562.70" x2="499.20" y2="562.70" stroke="#777" stroke-width="1.3" /><line x1="285.00" y1="559.60" x2="285.00" y2="566.80" stroke="#555" stroke-width="1.2" /><line x1="499.20" y1="559.60" x2="499.20" y2="566.80" stroke="#555" stroke-width="1.2" /><text x="506.40" y="567.60" font-size="9.3" fill="#222" text-anchor="start" font-weight="normal" >hg19</text><text x="52.30" y="585.20" font-size="9.5" fill="#222" text-anchor="end" font-weight="normal" >73,720,000</text><line x1="56.90" y1="577.40" x2="56.90" y2="584.70" stroke="#222" stroke-width="1.2" /><text x="159.37" y="585.20" font-size="9.5" fill="#222" text-anchor="end" font-weight="normal" >73,725,000</text><line x1="163.97" y1="577.40" x2="163.97" y2="584.70" stroke="#222" stroke-width="1.2" /><text x="266.44" y="585.20" font-size="9.5" fill="#222" text-anchor="end" font-weight="normal" >73,730,000</text><line x1="271.04" y1="577.40" x2="271.04" y2="584.70" stroke="#222" stroke-width="1.2" /><text x="373.51" y="585.20" font-size="9.5" fill="#222" text-anchor="end" font-weight="normal" >73,735,000</text><line x1="378.11" y1="577.40" x2="378.11" y2="584.70" stroke="#222" stroke-width="1.2" /><text x="480.58" y="585.20" font-size="9.5" fill="#222" text-anchor="end" font-weight="normal" >73,740,000</text><line x1="485.18" y1="577.40" x2="485.18" y2="584.70" stroke="#222" stroke-width="1.2" /><text x="587.65" y="585.20" font-size="9.5" fill="#222" text-anchor="end" font-weight="normal" >73,745,000</text><line x1="592.25" y1="577.40" x2="592.25" y2="584.70" stroke="#222" stroke-width="1.2" /><text x="694.72" y="585.20" font-size="9.5" fill="#222" text-anchor="end" font-weight="normal" >73,750,000</text><line x1="699.32" y1="577.40" x2="699.32" y2="584.70" stroke="#222" stroke-width="1.2" /><text x="318.3" y="608.2" font-size="10.5" fill="#111"><tspan font-weight="bold">MCF-7</tspan> Mass-Spec Peptide Hits</text><text x="52.6" y="622.6999999999999" font-size="7.6" fill="#6a5242" textLength="70.9" lengthAdjust="spacingAndGlyphs">VDKDCAYCTDEMFR</text><line x1="127.80" y1="619.90" x2="131.80" y2="619.90" stroke="#333" stroke-width="0.7" /><line x1="127.80" y1="617.70" x2="127.80" y2="622.10" stroke="#111" stroke-width="1" /><line x1="131.80" y1="617.70" x2="131.80" y2="622.10" stroke="#111" stroke-width="1" /><text x="75.4" y="631.5999999999999" font-size="7.6" fill="#6a5242" textLength="73.2" lengthAdjust="spacingAndGlyphs">LKEPWPNSDPPFSFK</text><line x1="153.60" y1="628.80" x2="173.20" y2="628.80" stroke="#333" stroke-width="0.7" /><line x1="153.60" y1="626.60" x2="153.60" y2="631.00" stroke="#111" stroke-width="1" /><line x1="173.20" y1="626.60" x2="173.20" y2="631.00" stroke="#111" stroke-width="1" /><text x="110.2" y="640.9" font-size="7.6" fill="#6a5242" textLength="57.3" lengthAdjust="spacingAndGlyphs">NVISLTEDVDEFR</text><rect x="171.70" y="635.80" width="1.60" height="4.60" fill="#111" stroke="none" stroke-width="0" /><text x="183.1" y="622.6999999999999" font-size="7.6" fill="#cc8420" textLength="76.2" lengthAdjust="spacingAndGlyphs">YEGQFCEYDNFQCPR</text><rect x="264.40" y="617.60" width="1.60" height="4.60" fill="#111" stroke="none" stroke-width="0" /><text x="347.7" y="621.9" font-size="7.6" fill="#cc8420" textLength="58.2" lengthAdjust="spacingAndGlyphs">QEVEENLNEVYR</text><line x1="410.80" y1="619.10" x2="419.70" y2="619.10" stroke="#333" stroke-width="0.7" /><line x1="410.80" y1="616.90" x2="410.80" y2="621.30" stroke="#111" stroke-width="1" /><line x1="419.70" y1="616.90" x2="419.70" y2="621.30" stroke="#111" stroke-width="1" /><text x="393.9" y="631.6999999999999" font-size="7.6" fill="#cc8420" textLength="59.0" lengthAdjust="spacingAndGlyphs">VPLFIRPEDDDEK</text><rect x="457.40" y="626.60" width="1.60" height="4.60" fill="#111" stroke="none" stroke-width="0" /><text x="372.9" y="640.6999999999999" font-size="7.6" fill="#cc8420" textLength="80.0" lengthAdjust="spacingAndGlyphs">QLLVEAIDVPAGTATLGR</text><rect x="457.90" y="635.60" width="1.60" height="4.60" fill="#111" stroke="none" stroke-width="0" /><text x="409.1" y="648.6999999999999" font-size="7.6" fill="#cc8420" textLength="67.7" lengthAdjust="spacingAndGlyphs">DVVSFEQPEFSVSR</text><rect x="480.90" y="643.60" width="1.60" height="4.60" fill="#111" stroke="none" stroke-width="0" /><text x="532.7" y="623.0999999999999" font-size="7.6" fill="#cc8420" textLength="55.5" lengthAdjust="spacingAndGlyphs">LLELQEVDSLLR</text><rect x="592.90" y="618.00" width="1.60" height="4.60" fill="#111" stroke="none" stroke-width="0" /><text x="540.7" y="640.5" font-size="7.6" fill="#cc8420" textLength="86.4" lengthAdjust="spacingAndGlyphs">VPSVELTNLYPYCDYEMK</text><rect x="631.70" y="635.40" width="1.60" height="4.60" fill="#111" stroke="none" stroke-width="0" /><text x="679.7" y="623.0999999999999" font-size="7.6" fill="#cc8420" textLength="55.6" lengthAdjust="spacingAndGlyphs">LVFSALGPTSLR</text><rect x="739.60" y="618.00" width="1.60" height="4.60" fill="#111" stroke="none" stroke-width="0" /><text x="631.4" y="632.0999999999999" font-size="7.6" fill="#cc8420" textLength="118.4" lengthAdjust="spacingAndGlyphs">LNIPNPAQTSVVVEDLLPNHSYVFR</text><rect x="754.10" y="627.00" width="1.60" height="4.60" fill="#111" stroke="none" stroke-width="0" /><text x="308.1" y="675.3" font-size="10.5" fill="#111"><tspan font-weight="bold">MCF-7</tspan> full-length mRNA sequences</text><line x1="5.40" y1="685.80" x2="783.20" y2="685.80" stroke="#727272" stroke-width="1.5" /><polyline points="533.8,683.2 537.6,685.8 533.8,688.4" fill="none" stroke="#333" stroke-width="0.9"/><rect x="73.20" y="681.90" width="2.00" height="7.80" fill="#000" stroke="none" stroke-width="0" /><rect x="126.80" y="681.90" width="2.30" height="7.80" fill="#000" stroke="none" stroke-width="0" /><rect x="131.10" y="681.90" width="2.10" height="7.80" fill="#000" stroke="none" stroke-width="0" /><rect x="136.80" y="681.90" width="4.50" height="7.80" fill="#000" stroke="none" stroke-width="0" /><rect x="152.00" y="681.90" width="2.80" height="7.80" fill="#000" stroke="none" stroke-width="0" /><rect x="171.90" y="681.90" width="3.10" height="7.80" fill="#000" stroke="none" stroke-width="0" /><rect x="192.30" y="681.90" width="6.10" height="7.80" fill="#000" stroke="none" stroke-width="0" /><rect x="205.10" y="681.90" width="3.10" height="7.80" fill="#000" stroke="none" stroke-width="0" /><rect x="213.50" y="681.90" width="2.80" height="7.80" fill="#dd2439" stroke="none" stroke-width="0" /><rect x="226.10" y="681.90" width="3.90" height="7.80" fill="#dd2439" stroke="none" stroke-width="0" /><rect x="232.60" y="681.90" width="2.10" height="7.80" fill="#dd2439" stroke="none" stroke-width="0" /><rect x="261.80" y="681.90" width="4.40" height="7.80" fill="#dd2439" stroke="none" stroke-width="0" /><rect x="316.80" y="681.90" width="2.00" height="7.80" fill="#dd2439" stroke="none" stroke-width="0" /><rect x="321.30" y="681.90" width="3.00" height="7.80" fill="#dd2439" stroke="none" stroke-width="0" /><rect x="328.00" y="681.90" width="2.50" height="7.80" fill="#dd2439" stroke="none" stroke-width="0" /><rect x="343.70" y="681.90" width="2.60" height="7.80" fill="#dd2439" stroke="none" stroke-width="0" /><rect x="348.40" y="681.90" width="2.40" height="7.80" fill="#dd2439" stroke="none" stroke-width="0" /><rect x="394.70" y="681.90" width="1.20" height="7.80" fill="#dd2439" stroke="none" stroke-width="0" /><rect x="398.70" y="681.90" width="4.10" height="7.80" fill="#dd2439" stroke="none" stroke-width="0" /><rect x="408.90" y="681.90" width="2.70" height="7.80" fill="#dd2439" stroke="none" stroke-width="0" /><rect x="419.10" y="681.90" width="0.90" height="7.80" fill="#dd2439" stroke="none" stroke-width="0" /><rect x="422.20" y="681.90" width="1.00" height="7.80" fill="#dd2439" stroke="none" stroke-width="0" /><rect x="451.70" y="681.90" width="2.90" height="7.80" fill="#dd2439" stroke="none" stroke-width="0" /><rect x="456.60" y="681.90" width="4.10" height="7.80" fill="#dd2439" stroke="none" stroke-width="0" /><rect x="481.30" y="681.90" width="2.60" height="7.80" fill="#dd2439" stroke="none" stroke-width="0" /><rect x="591.10" y="681.90" width="4.30" height="7.80" fill="#dd2439" stroke="none" stroke-width="0" /><rect x="618.20" y="681.90" width="3.30" height="7.80" fill="#dd2439" stroke="none" stroke-width="0" /><rect x="630.50" y="681.90" width="3.20" height="7.80" fill="#dd2439" stroke="none" stroke-width="0" /><rect x="636.60" y="681.90" width="2.40" height="7.80" fill="#dd2439" stroke="none" stroke-width="0" /><rect x="662.50" y="681.90" width="3.40" height="7.80" fill="#dd2439" stroke="none" stroke-width="0" /><rect x="667.70" y="681.90" width="3.70" height="7.80" fill="#dd2439" stroke="none" stroke-width="0" /><rect x="714.30" y="681.90" width="4.80" height="7.80" fill="#dd2439" stroke="none" stroke-width="0" /><rect x="737.90" y="681.90" width="3.30" height="7.80" fill="#dd2439" stroke="none" stroke-width="0" /><rect x="753.20" y="681.90" width="5.00" height="7.80" fill="#dd2439" stroke="none" stroke-width="0" /><rect x="760.10" y="681.90" width="2.70" height="7.80" fill="#dd2439" stroke="none" stroke-width="0" /><rect x="764.10" y="681.90" width="3.70" height="7.80" fill="#dd2439" stroke="none" stroke-width="0" /><rect x="770.20" y="681.90" width="1.90" height="7.80" fill="#dd2439" stroke="none" stroke-width="0" /><rect x="774.80" y="681.90" width="3.10" height="7.80" fill="#dd2439" stroke="none" stroke-width="0" /><rect x="777.90" y="683.70" width="5.20" height="4.20" fill="#dd2439" stroke="none" stroke-width="0" /><line x1="5.40" y1="694.80" x2="783.20" y2="694.80" stroke="#727272" stroke-width="1.5" /><polyline points="533.8,692.2 537.6,694.8 533.8,697.4" fill="none" stroke="#333" stroke-width="0.9"/><rect x="73.20" y="690.90" width="2.00" height="7.80" fill="#000" stroke="none" stroke-width="0" /><rect x="126.80" y="690.90" width="2.30" height="7.80" fill="#000" stroke="none" stroke-width="0" /><rect x="131.10" y="690.90" width="2.10" height="7.80" fill="#000" stroke="none" stroke-width="0" /><rect x="136.80" y="690.90" width="4.50" height="7.80" fill="#000" stroke="none" stroke-width="0" /><rect x="152.00" y="690.90" width="2.80" height="7.80" fill="#000" stroke="none" stroke-width="0" /><rect x="171.90" y="690.90" width="3.10" height="7.80" fill="#000" stroke="none" stroke-width="0" /><rect x="192.30" y="690.90" width="6.10" height="7.80" fill="#000" stroke="none" stroke-width="0" /><rect x="205.10" y="690.90" width="3.10" height="7.80" fill="#000" stroke="none" stroke-width="0" /><rect x="213.50" y="690.90" width="2.80" height="7.80" fill="#dd2439" stroke="none" stroke-width="0" /><rect x="226.10" y="690.90" width="3.90" height="7.80" fill="#dd2439" stroke="none" stroke-width="0" /><rect x="232.60" y="690.90" width="2.10" height="7.80" fill="#dd2439" stroke="none" stroke-width="0" /><rect x="261.80" y="690.90" width="4.40" height="7.80" fill="#dd2439" stroke="none" stroke-width="0" /><rect x="316.80" y="690.90" width="2.00" height="7.80" fill="#dd2439" stroke="none" stroke-width="0" /><rect x="321.30" y="690.90" width="3.00" height="7.80" fill="#dd2439" stroke="none" stroke-width="0" /><rect x="328.00" y="690.90" width="2.50" height="7.80" fill="#dd2439" stroke="none" stroke-width="0" /><rect x="343.70" y="690.90" width="2.60" height="7.80" fill="#dd2439" stroke="none" stroke-width="0" /><rect x="348.40" y="690.90" width="2.40" height="7.80" fill="#dd2439" stroke="none" stroke-width="0" /><rect x="394.70" y="690.90" width="1.20" height="7.80" fill="#dd2439" stroke="none" stroke-width="0" /><rect x="398.70" y="690.90" width="4.10" height="7.80" fill="#dd2439" stroke="none" stroke-width="0" /><rect x="408.90" y="690.90" width="2.70" height="7.80" fill="#dd2439" stroke="none" stroke-width="0" /><rect x="419.10" y="690.90" width="0.90" height="7.80" fill="#dd2439" stroke="none" stroke-width="0" /><rect x="422.20" y="690.90" width="1.00" height="7.80" fill="#dd2439" stroke="none" stroke-width="0" /><rect x="451.70" y="690.90" width="2.90" height="7.80" fill="#dd2439" stroke="none" stroke-width="0" /><rect x="456.60" y="690.90" width="4.10" height="7.80" fill="#dd2439" stroke="none" stroke-width="0" /><rect x="481.30" y="690.90" width="2.60" height="7.80" fill="#dd2439" stroke="none" stroke-width="0" /><rect x="591.10" y="690.90" width="4.30" height="7.80" fill="#dd2439" stroke="none" stroke-width="0" /><rect x="618.20" y="690.90" width="3.30" height="7.80" fill="#dd2439" stroke="none" stroke-width="0" /><rect x="630.50" y="690.90" width="3.20" height="7.80" fill="#dd2439" stroke="none" stroke-width="0" /><rect x="636.60" y="690.90" width="2.40" height="7.80" fill="#dd2439" stroke="none" stroke-width="0" /><rect x="662.50" y="690.90" width="3.40" height="7.80" fill="#dd2439" stroke="none" stroke-width="0" /><rect x="667.70" y="690.90" width="3.70" height="7.80" fill="#dd2439" stroke="none" stroke-width="0" /><rect x="714.30" y="690.90" width="4.80" height="7.80" fill="#dd2439" stroke="none" stroke-width="0" /><rect x="737.90" y="690.90" width="3.30" height="7.80" fill="#dd2439" stroke="none" stroke-width="0" /><rect x="753.20" y="690.90" width="5.00" height="7.80" fill="#dd2439" stroke="none" stroke-width="0" /><rect x="760.10" y="690.90" width="2.70" height="7.80" fill="#dd2439" stroke="none" stroke-width="0" /><rect x="764.10" y="690.90" width="3.70" height="7.80" fill="#dd2439" stroke="none" stroke-width="0" /><rect x="770.20" y="690.90" width="1.90" height="7.80" fill="#dd2439" stroke="none" stroke-width="0" /><rect x="774.80" y="690.90" width="3.10" height="7.80" fill="#dd2439" stroke="none" stroke-width="0" /><rect x="777.90" y="692.70" width="5.20" height="4.20" fill="#dd2439" stroke="none" stroke-width="0" /><line x1="5.40" y1="703.70" x2="783.20" y2="703.70" stroke="#727272" stroke-width="1.5" /><polyline points="533.8,701.1 537.6,703.7 533.8,706.3" fill="none" stroke="#333" stroke-width="0.9"/><rect x="73.20" y="699.80" width="2.00" height="7.80" fill="#000" stroke="none" stroke-width="0" /><rect x="126.80" y="699.80" width="2.30" height="7.80" fill="#000" stroke="none" stroke-width="0" /><rect x="131.10" y="699.80" width="2.10" height="7.80" fill="#000" stroke="none" stroke-width="0" /><rect x="136.80" y="699.80" width="4.50" height="7.80" fill="#000" stroke="none" stroke-width="0" /><rect x="152.00" y="699.80" width="2.80" height="7.80" fill="#000" stroke="none" stroke-width="0" /><rect x="171.90" y="699.80" width="3.10" height="7.80" fill="#000" stroke="none" stroke-width="0" /><rect x="192.30" y="699.80" width="6.10" height="7.80" fill="#000" stroke="none" stroke-width="0" /><rect x="205.10" y="699.80" width="3.10" height="7.80" fill="#000" stroke="none" stroke-width="0" /><rect x="213.50" y="699.80" width="1.50" height="7.80" fill="#8cc4e0" stroke="none" stroke-width="0" /><path d="M780,699.9 L783.5,703.7 L780,707.5 Z" fill="#5aa8d2"/><line x1="5.40" y1="712.50" x2="783.20" y2="712.50" stroke="#727272" stroke-width="1.5" /><polyline points="533.8,709.9 537.6,712.5 533.8,715.1" fill="none" stroke="#333" stroke-width="0.9"/><rect x="73.20" y="708.60" width="2.00" height="7.80" fill="#000" stroke="none" stroke-width="0" /><rect x="126.80" y="708.60" width="2.30" height="7.80" fill="#000" stroke="none" stroke-width="0" /><rect x="131.10" y="708.60" width="2.10" height="7.80" fill="#000" stroke="none" stroke-width="0" /><rect x="136.80" y="708.60" width="4.50" height="7.80" fill="#000" stroke="none" stroke-width="0" /><rect x="152.00" y="708.60" width="2.80" height="7.80" fill="#000" stroke="none" stroke-width="0" /><rect x="171.90" y="708.60" width="3.10" height="7.80" fill="#000" stroke="none" stroke-width="0" /><rect x="192.30" y="708.60" width="6.10" height="7.80" fill="#000" stroke="none" stroke-width="0" /><rect x="205.10" y="708.60" width="3.10" height="7.80" fill="#000" stroke="none" stroke-width="0" /><rect x="213.60" y="708.60" width="1.00" height="7.80" fill="#555" stroke="none" stroke-width="0" /><path d="M779.2,708.6 L781.5,708.6 Q784,708.6 784,712.5 Q784,716.4 781.5,716.4 L779.2,716.4 Z" fill="#000"/><rect x="4.60" y="683.80" width="2.20" height="4.20" fill="#c03040" stroke="none" stroke-width="0" /><rect x="4.40" y="692.40" width="2.80" height="4.80" fill="#111" stroke="none" stroke-width="0" /><rect x="4.40" y="701.40" width="2.80" height="4.60" fill="#335" stroke="none" stroke-width="0" /><rect x="5.20" y="710.00" width="1.00" height="5.00" fill="#444" stroke="none" stroke-width="0" /><rect x="4.40" y="692.40" width="1.00" height="4.80" fill="#dd2439" stroke="none" stroke-width="0" /><line x1="638.00" y1="721.30" x2="783.20" y2="721.30" stroke="#727272" stroke-width="1.5" /><line x1="638.00" y1="717.60" x2="638.00" y2="725.00" stroke="#111" stroke-width="1.8" /><polyline points="692.6,718.7 696.4,721.3 692.6,723.9" fill="none" stroke="#333" stroke-width="0.9"/><rect x="662.50" y="717.40" width="3.40" height="7.80" fill="#dd2439" stroke="none" stroke-width="0" /><rect x="667.70" y="717.40" width="3.70" height="7.80" fill="#dd2439" stroke="none" stroke-width="0" /><rect x="714.30" y="717.40" width="4.80" height="7.80" fill="#dd2439" stroke="none" stroke-width="0" /><rect x="737.90" y="717.40" width="3.30" height="7.80" fill="#dd2439" stroke="none" stroke-width="0" /><rect x="753.20" y="717.40" width="5.00" height="7.80" fill="#dd2439" stroke="none" stroke-width="0" /><rect x="760.10" y="717.40" width="2.70" height="7.80" fill="#dd2439" stroke="none" stroke-width="0" /><rect x="764.10" y="717.40" width="3.70" height="7.80" fill="#dd2439" stroke="none" stroke-width="0" /><rect x="770.20" y="717.40" width="1.90" height="7.80" fill="#dd2439" stroke="none" stroke-width="0" /><rect x="774.80" y="717.40" width="3.10" height="7.80" fill="#dd2439" stroke="none" stroke-width="0" /><rect x="777.90" y="719.20" width="5.20" height="4.20" fill="#dd2439" stroke="none" stroke-width="0" /><line x1="650.00" y1="730.60" x2="783.70" y2="730.60" stroke="#3c3c50" stroke-width="1.3" /><rect x="647.80" y="728.20" width="4.80" height="4.80" fill="#000" stroke="none" stroke-width="0" /><polyline points="696.4,728.0 692.6,730.6 696.4,733.2" fill="none" stroke="#333" stroke-width="0.9"/><line x1="650.00" y1="739.40" x2="783.70" y2="739.40" stroke="#3c3c50" stroke-width="1.3" /><rect x="647.80" y="737.00" width="4.80" height="4.80" fill="#000" stroke="none" stroke-width="0" /><polyline points="696.4,736.8 692.6,739.4 696.4,742.0" fill="none" stroke="#333" stroke-width="0.9"/><text x="262.60" y="768.20" font-size="10.6" fill="#2b2b85" text-anchor="start" font-weight="normal" >Basic Gene Annotation Set from GENCODE Version 19</text><line x1="5.00" y1="779.00" x2="783.50" y2="779.00" stroke="#5c5c9c" stroke-width="1.5" /><polyline points="533.6,776.4 537.4,779.0 533.6,781.6" fill="none" stroke="#0b0b58" stroke-width="0.9"/><rect x="73.20" y="775.10" width="2.00" height="7.80" fill="#0b0b58" stroke="none" stroke-width="0" /><rect x="126.80" y="775.10" width="2.30" height="7.80" fill="#0b0b58" stroke="none" stroke-width="0" /><rect x="131.10" y="775.10" width="2.10" height="7.80" fill="#0b0b58" stroke="none" stroke-width="0" /><rect x="136.80" y="775.10" width="4.50" height="7.80" fill="#0b0b58" stroke="none" stroke-width="0" /><rect x="152.00" y="775.10" width="2.80" height="7.80" fill="#0b0b58" stroke="none" stroke-width="0" /><rect x="171.90" y="775.10" width="3.10" height="7.80" fill="#0b0b58" stroke="none" stroke-width="0" /><rect x="192.30" y="775.10" width="6.10" height="7.80" fill="#0b0b58" stroke="none" stroke-width="0" /><rect x="205.10" y="775.10" width="3.10" height="7.80" fill="#0b0b58" stroke="none" stroke-width="0" /><rect x="213.50" y="775.10" width="2.80" height="7.80" fill="#0b0b58" stroke="none" stroke-width="0" /><rect x="226.10" y="775.10" width="3.90" height="7.80" fill="#0b0b58" stroke="none" stroke-width="0" /><rect x="232.60" y="775.10" width="2.10" height="7.80" fill="#0b0b58" stroke="none" stroke-width="0" /><rect x="261.80" y="775.10" width="4.40" height="7.80" fill="#0b0b58" stroke="none" stroke-width="0" /><rect x="316.80" y="775.10" width="2.00" height="7.80" fill="#0b0b58" stroke="none" stroke-width="0" /><rect x="321.30" y="775.10" width="3.00" height="7.80" fill="#0b0b58" stroke="none" stroke-width="0" /><rect x="328.00" y="775.10" width="2.50" height="7.80" fill="#0b0b58" stroke="none" stroke-width="0" /><rect x="343.70" y="775.10" width="2.60" height="7.80" fill="#0b0b58" stroke="none" stroke-width="0" /><rect x="348.40" y="775.10" width="2.40" height="7.80" fill="#0b0b58" stroke="none" stroke-width="0" /><rect x="394.70" y="775.10" width="1.20" height="7.80" fill="#0b0b58" stroke="none" stroke-width="0" /><rect x="398.70" y="775.10" width="4.10" height="7.80" fill="#0b0b58" stroke="none" stroke-width="0" /><rect x="408.90" y="775.10" width="2.70" height="7.80" fill="#0b0b58" stroke="none" stroke-width="0" /><rect x="419.10" y="775.10" width="0.90" height="7.80" fill="#0b0b58" stroke="none" stroke-width="0" /><rect x="422.20" y="775.10" width="1.00" height="7.80" fill="#0b0b58" stroke="none" stroke-width="0" /><rect x="451.70" y="775.10" width="2.90" height="7.80" fill="#0b0b58" stroke="none" stroke-width="0" /><rect x="456.60" y="775.10" width="4.10" height="7.80" fill="#0b0b58" stroke="none" stroke-width="0" /><rect x="481.30" y="775.10" width="2.60" height="7.80" fill="#0b0b58" stroke="none" stroke-width="0" /><rect x="591.10" y="775.10" width="4.30" height="7.80" fill="#0b0b58" stroke="none" stroke-width="0" /><rect x="618.20" y="775.10" width="3.30" height="7.80" fill="#0b0b58" stroke="none" stroke-width="0" /><rect x="630.50" y="775.10" width="3.20" height="7.80" fill="#0b0b58" stroke="none" stroke-width="0" /><rect x="636.60" y="775.10" width="2.40" height="7.80" fill="#0b0b58" stroke="none" stroke-width="0" /><rect x="662.50" y="775.10" width="3.40" height="7.80" fill="#0b0b58" stroke="none" stroke-width="0" /><rect x="667.70" y="775.10" width="3.70" height="7.80" fill="#0b0b58" stroke="none" stroke-width="0" /><rect x="714.30" y="775.10" width="4.80" height="7.80" fill="#0b0b58" stroke="none" stroke-width="0" /><rect x="737.90" y="775.10" width="3.30" height="7.80" fill="#0b0b58" stroke="none" stroke-width="0" /><rect x="753.20" y="775.10" width="5.00" height="7.80" fill="#0b0b58" stroke="none" stroke-width="0" /><rect x="760.10" y="775.10" width="2.70" height="7.80" fill="#0b0b58" stroke="none" stroke-width="0" /><rect x="764.10" y="775.10" width="3.70" height="7.80" fill="#0b0b58" stroke="none" stroke-width="0" /><rect x="770.20" y="775.10" width="1.90" height="7.80" fill="#0b0b58" stroke="none" stroke-width="0" /><path d="M774.8,775.1 L776.5,775.1 Q779,775.1 779,779.0 Q779,782.9 776.5,782.9 L774.8,782.9 Z" fill="#0b0b58"/><line x1="5.00" y1="788.00" x2="783.50" y2="788.00" stroke="#5c5c9c" stroke-width="1.5" /><polyline points="533.6,785.4 537.4,788.0 533.6,790.6" fill="none" stroke="#0b0b58" stroke-width="0.9"/><rect x="73.20" y="784.10" width="2.00" height="7.80" fill="#0b0b58" stroke="none" stroke-width="0" /><rect x="126.80" y="784.10" width="2.30" height="7.80" fill="#0b0b58" stroke="none" stroke-width="0" /><rect x="131.10" y="784.10" width="2.10" height="7.80" fill="#0b0b58" stroke="none" stroke-width="0" /><rect x="136.80" y="784.10" width="4.50" height="7.80" fill="#0b0b58" stroke="none" stroke-width="0" /><rect x="152.00" y="784.10" width="2.80" height="7.80" fill="#0b0b58" stroke="none" stroke-width="0" /><rect x="171.90" y="784.10" width="3.10" height="7.80" fill="#0b0b58" stroke="none" stroke-width="0" /><rect x="192.30" y="784.10" width="6.10" height="7.80" fill="#0b0b58" stroke="none" stroke-width="0" /><rect x="205.10" y="784.10" width="3.10" height="7.80" fill="#0b0b58" stroke="none" stroke-width="0" /><rect x="213.50" y="784.10" width="2.80" height="7.80" fill="#0b0b58" stroke="none" stroke-width="0" /><rect x="226.10" y="784.10" width="3.90" height="7.80" fill="#0b0b58" stroke="none" stroke-width="0" /><rect x="232.60" y="784.10" width="2.10" height="7.80" fill="#0b0b58" stroke="none" stroke-width="0" /><rect x="261.80" y="784.10" width="4.40" height="7.80" fill="#0b0b58" stroke="none" stroke-width="0" /><rect x="316.80" y="784.10" width="2.00" height="7.80" fill="#0b0b58" stroke="none" stroke-width="0" /><rect x="321.30" y="784.10" width="3.00" height="7.80" fill="#0b0b58" stroke="none" stroke-width="0" /><rect x="328.00" y="784.10" width="2.50" height="7.80" fill="#0b0b58" stroke="none" stroke-width="0" /><rect x="343.70" y="784.10" width="2.60" height="7.80" fill="#0b0b58" stroke="none" stroke-width="0" /><rect x="348.40" y="784.10" width="2.40" height="7.80" fill="#0b0b58" stroke="none" stroke-width="0" /><rect x="394.70" y="784.10" width="1.20" height="7.80" fill="#0b0b58" stroke="none" stroke-width="0" /><rect x="398.70" y="784.10" width="4.10" height="7.80" fill="#0b0b58" stroke="none" stroke-width="0" /><rect x="408.90" y="784.10" width="2.70" height="7.80" fill="#0b0b58" stroke="none" stroke-width="0" /><rect x="419.10" y="784.10" width="0.90" height="7.80" fill="#0b0b58" stroke="none" stroke-width="0" /><rect x="422.20" y="784.10" width="1.00" height="7.80" fill="#0b0b58" stroke="none" stroke-width="0" /><rect x="451.70" y="784.10" width="2.90" height="7.80" fill="#0b0b58" stroke="none" stroke-width="0" /><rect x="456.60" y="784.10" width="4.10" height="7.80" fill="#0b0b58" stroke="none" stroke-width="0" /><rect x="481.30" y="784.10" width="2.60" height="7.80" fill="#0b0b58" stroke="none" stroke-width="0" /><rect x="591.10" y="784.10" width="4.30" height="7.80" fill="#0b0b58" stroke="none" stroke-width="0" /><rect x="618.20" y="784.10" width="3.30" height="7.80" fill="#0b0b58" stroke="none" stroke-width="0" /><rect x="630.50" y="784.10" width="3.20" height="7.80" fill="#0b0b58" stroke="none" stroke-width="0" /><rect x="636.60" y="784.10" width="2.40" height="7.80" fill="#0b0b58" stroke="none" stroke-width="0" /><rect x="662.50" y="784.10" width="3.40" height="7.80" fill="#0b0b58" stroke="none" stroke-width="0" /><rect x="667.70" y="784.10" width="3.70" height="7.80" fill="#0b0b58" stroke="none" stroke-width="0" /><rect x="714.30" y="784.10" width="4.80" height="7.80" fill="#0b0b58" stroke="none" stroke-width="0" /><rect x="737.90" y="784.10" width="3.30" height="7.80" fill="#0b0b58" stroke="none" stroke-width="0" /><rect x="753.20" y="784.10" width="5.00" height="7.80" fill="#0b0b58" stroke="none" stroke-width="0" /><rect x="760.10" y="784.10" width="2.70" height="7.80" fill="#0b0b58" stroke="none" stroke-width="0" /><rect x="764.10" y="784.10" width="3.70" height="7.80" fill="#0b0b58" stroke="none" stroke-width="0" /><rect x="770.20" y="784.10" width="1.90" height="7.80" fill="#0b0b58" stroke="none" stroke-width="0" /><rect x="774.80" y="784.10" width="3.20" height="7.80" fill="#0b0b58" stroke="none" stroke-width="0" /><rect x="778.00" y="785.80" width="5.30" height="4.40" fill="#0b0b58" stroke="none" stroke-width="0" /><line x1="5.00" y1="796.80" x2="783.50" y2="796.80" stroke="#5c5c9c" stroke-width="1.5" /><polyline points="533.6,794.2 537.4,796.8 533.6,799.4" fill="none" stroke="#0b0b58" stroke-width="0.9"/><rect x="73.20" y="792.90" width="2.00" height="7.80" fill="#0b0b58" stroke="none" stroke-width="0" /><rect x="126.80" y="792.90" width="2.30" height="7.80" fill="#0b0b58" stroke="none" stroke-width="0" /><rect x="131.10" y="792.90" width="2.10" height="7.80" fill="#0b0b58" stroke="none" stroke-width="0" /><rect x="136.80" y="792.90" width="4.50" height="7.80" fill="#0b0b58" stroke="none" stroke-width="0" /><rect x="152.00" y="792.90" width="2.80" height="7.80" fill="#0b0b58" stroke="none" stroke-width="0" /><rect x="171.90" y="792.90" width="3.10" height="7.80" fill="#0b0b58" stroke="none" stroke-width="0" /><rect x="192.30" y="792.90" width="6.10" height="7.80" fill="#0b0b58" stroke="none" stroke-width="0" /><rect x="205.10" y="792.90" width="3.10" height="7.80" fill="#0b0b58" stroke="none" stroke-width="0" /><rect x="213.50" y="792.90" width="2.80" height="7.80" fill="#0b0b58" stroke="none" stroke-width="0" /><rect x="226.10" y="792.90" width="3.90" height="7.80" fill="#0b0b58" stroke="none" stroke-width="0" /><rect x="232.60" y="792.90" width="2.10" height="7.80" fill="#0b0b58" stroke="none" stroke-width="0" /><rect x="261.80" y="792.90" width="4.40" height="7.80" fill="#0b0b58" stroke="none" stroke-width="0" /><rect x="316.80" y="792.90" width="2.00" height="7.80" fill="#0b0b58" stroke="none" stroke-width="0" /><rect x="321.30" y="792.90" width="3.00" height="7.80" fill="#0b0b58" stroke="none" stroke-width="0" /><rect x="328.00" y="792.90" width="2.50" height="7.80" fill="#0b0b58" stroke="none" stroke-width="0" /><rect x="343.70" y="792.90" width="2.60" height="7.80" fill="#0b0b58" stroke="none" stroke-width="0" /><rect x="348.40" y="792.90" width="2.40" height="7.80" fill="#0b0b58" stroke="none" stroke-width="0" /><rect x="394.70" y="792.90" width="1.20" height="7.80" fill="#0b0b58" stroke="none" stroke-width="0" /><rect x="398.70" y="792.90" width="4.10" height="7.80" fill="#0b0b58" stroke="none" stroke-width="0" /><rect x="408.90" y="792.90" width="2.70" height="7.80" fill="#0b0b58" stroke="none" stroke-width="0" /><rect x="419.10" y="792.90" width="0.90" height="7.80" fill="#0b0b58" stroke="none" stroke-width="0" /><rect x="422.20" y="792.90" width="1.00" height="7.80" fill="#0b0b58" stroke="none" stroke-width="0" /><rect x="451.70" y="792.90" width="2.90" height="7.80" fill="#0b0b58" stroke="none" stroke-width="0" /><rect x="456.60" y="792.90" width="4.10" height="7.80" fill="#0b0b58" stroke="none" stroke-width="0" /><rect x="481.30" y="792.90" width="2.60" height="7.80" fill="#0b0b58" stroke="none" stroke-width="0" /><rect x="591.10" y="792.90" width="4.30" height="7.80" fill="#0b0b58" stroke="none" stroke-width="0" /><rect x="618.20" y="792.90" width="3.30" height="7.80" fill="#0b0b58" stroke="none" stroke-width="0" /><rect x="630.50" y="792.90" width="3.20" height="7.80" fill="#0b0b58" stroke="none" stroke-width="0" /><rect x="636.60" y="792.90" width="2.40" height="7.80" fill="#0b0b58" stroke="none" stroke-width="0" /><rect x="662.50" y="792.90" width="3.40" height="7.80" fill="#0b0b58" stroke="none" stroke-width="0" /><rect x="667.70" y="792.90" width="3.70" height="7.80" fill="#0b0b58" stroke="none" stroke-width="0" /><rect x="714.30" y="792.90" width="4.80" height="7.80" fill="#0b0b58" stroke="none" stroke-width="0" /><rect x="737.90" y="792.90" width="3.30" height="7.80" fill="#0b0b58" stroke="none" stroke-width="0" /><rect x="753.20" y="792.90" width="5.00" height="7.80" fill="#0b0b58" stroke="none" stroke-width="0" /><rect x="760.10" y="792.90" width="2.70" height="7.80" fill="#0b0b58" stroke="none" stroke-width="0" /><rect x="764.10" y="792.90" width="3.70" height="7.80" fill="#0b0b58" stroke="none" stroke-width="0" /><rect x="770.20" y="792.90" width="1.90" height="7.80" fill="#0b0b58" stroke="none" stroke-width="0" /><rect x="774.80" y="792.90" width="3.20" height="7.80" fill="#0b0b58" stroke="none" stroke-width="0" /><rect x="778.00" y="794.60" width="5.30" height="4.40" fill="#0b0b58" stroke="none" stroke-width="0" /><line x1="5.00" y1="805.60" x2="783.50" y2="805.60" stroke="#5c5c9c" stroke-width="1.5" /><polyline points="533.6,803.0 537.4,805.6 533.6,808.2" fill="none" stroke="#0b0b58" stroke-width="0.9"/><rect x="73.20" y="801.70" width="2.00" height="7.80" fill="#0b0b58" stroke="none" stroke-width="0" /><rect x="126.80" y="801.70" width="2.30" height="7.80" fill="#0b0b58" stroke="none" stroke-width="0" /><rect x="131.10" y="801.70" width="2.10" height="7.80" fill="#0b0b58" stroke="none" stroke-width="0" /><rect x="136.80" y="801.70" width="4.50" height="7.80" fill="#0b0b58" stroke="none" stroke-width="0" /><rect x="152.00" y="801.70" width="2.80" height="7.80" fill="#0b0b58" stroke="none" stroke-width="0" /><rect x="171.90" y="801.70" width="3.10" height="7.80" fill="#0b0b58" stroke="none" stroke-width="0" /><rect x="192.30" y="801.70" width="6.10" height="7.80" fill="#0b0b58" stroke="none" stroke-width="0" /><rect x="205.10" y="801.70" width="3.10" height="7.80" fill="#0b0b58" stroke="none" stroke-width="0" /><rect x="213.50" y="801.70" width="2.80" height="7.80" fill="#0b0b58" stroke="none" stroke-width="0" /><rect x="226.10" y="801.70" width="3.90" height="7.80" fill="#0b0b58" stroke="none" stroke-width="0" /><rect x="232.60" y="801.70" width="2.10" height="7.80" fill="#0b0b58" stroke="none" stroke-width="0" /><rect x="261.80" y="801.70" width="4.40" height="7.80" fill="#0b0b58" stroke="none" stroke-width="0" /><rect x="316.80" y="801.70" width="2.00" height="7.80" fill="#0b0b58" stroke="none" stroke-width="0" /><rect x="321.30" y="801.70" width="3.00" height="7.80" fill="#0b0b58" stroke="none" stroke-width="0" /><rect x="328.00" y="801.70" width="2.50" height="7.80" fill="#0b0b58" stroke="none" stroke-width="0" /><rect x="343.70" y="801.70" width="2.60" height="7.80" fill="#0b0b58" stroke="none" stroke-width="0" /><rect x="348.40" y="801.70" width="2.40" height="7.80" fill="#0b0b58" stroke="none" stroke-width="0" /><rect x="394.70" y="801.70" width="1.20" height="7.80" fill="#0b0b58" stroke="none" stroke-width="0" /><rect x="398.70" y="801.70" width="4.10" height="7.80" fill="#0b0b58" stroke="none" stroke-width="0" /><rect x="408.90" y="801.70" width="2.70" height="7.80" fill="#0b0b58" stroke="none" stroke-width="0" /><rect x="419.10" y="801.70" width="0.90" height="7.80" fill="#0b0b58" stroke="none" stroke-width="0" /><rect x="422.20" y="801.70" width="1.00" height="7.80" fill="#0b0b58" stroke="none" stroke-width="0" /><rect x="451.70" y="801.70" width="2.90" height="7.80" fill="#0b0b58" stroke="none" stroke-width="0" /><rect x="456.60" y="801.70" width="4.10" height="7.80" fill="#0b0b58" stroke="none" stroke-width="0" /><rect x="481.30" y="801.70" width="2.60" height="7.80" fill="#0b0b58" stroke="none" stroke-width="0" /><rect x="591.10" y="801.70" width="4.30" height="7.80" fill="#0b0b58" stroke="none" stroke-width="0" /><rect x="618.20" y="801.70" width="3.30" height="7.80" fill="#0b0b58" stroke="none" stroke-width="0" /><rect x="630.50" y="801.70" width="3.20" height="7.80" fill="#0b0b58" stroke="none" stroke-width="0" /><rect x="636.60" y="801.70" width="2.40" height="7.80" fill="#0b0b58" stroke="none" stroke-width="0" /><rect x="662.50" y="801.70" width="3.40" height="7.80" fill="#0b0b58" stroke="none" stroke-width="0" /><rect x="667.70" y="801.70" width="3.70" height="7.80" fill="#0b0b58" stroke="none" stroke-width="0" /><rect x="714.30" y="801.70" width="4.80" height="7.80" fill="#0b0b58" stroke="none" stroke-width="0" /><rect x="737.90" y="801.70" width="3.30" height="7.80" fill="#0b0b58" stroke="none" stroke-width="0" /><rect x="753.20" y="801.70" width="5.00" height="7.80" fill="#0b0b58" stroke="none" stroke-width="0" /><rect x="760.10" y="801.70" width="2.70" height="7.80" fill="#0b0b58" stroke="none" stroke-width="0" /><rect x="764.10" y="801.70" width="3.70" height="7.80" fill="#0b0b58" stroke="none" stroke-width="0" /><rect x="770.20" y="801.70" width="1.90" height="7.80" fill="#0b0b58" stroke="none" stroke-width="0" /><rect x="774.80" y="801.70" width="3.20" height="7.80" fill="#0b0b58" stroke="none" stroke-width="0" /><rect x="778.00" y="803.40" width="5.30" height="4.40" fill="#0b0b58" stroke="none" stroke-width="0" /><line x1="74.00" y1="814.50" x2="783.50" y2="814.50" stroke="#5c5c9c" stroke-width="1.5" /><polyline points="533.6,811.9 537.4,814.5 533.6,817.1" fill="none" stroke="#0b0b58" stroke-width="0.9"/><rect x="73.20" y="810.60" width="2.00" height="7.80" fill="#0b0b58" stroke="none" stroke-width="0" /><rect x="126.80" y="810.60" width="2.30" height="7.80" fill="#0b0b58" stroke="none" stroke-width="0" /><rect x="131.10" y="810.60" width="2.10" height="7.80" fill="#0b0b58" stroke="none" stroke-width="0" /><rect x="136.80" y="810.60" width="4.50" height="7.80" fill="#0b0b58" stroke="none" stroke-width="0" /><rect x="152.00" y="810.60" width="2.80" height="7.80" fill="#0b0b58" stroke="none" stroke-width="0" /><rect x="171.90" y="810.60" width="3.10" height="7.80" fill="#0b0b58" stroke="none" stroke-width="0" /><rect x="192.30" y="810.60" width="6.10" height="7.80" fill="#0b0b58" stroke="none" stroke-width="0" /><rect x="205.10" y="810.60" width="3.10" height="7.80" fill="#0b0b58" stroke="none" stroke-width="0" /><rect x="213.50" y="810.60" width="2.80" height="7.80" fill="#0b0b58" stroke="none" stroke-width="0" /><rect x="226.10" y="810.60" width="3.90" height="7.80" fill="#0b0b58" stroke="none" stroke-width="0" /><rect x="232.60" y="810.60" width="2.10" height="7.80" fill="#0b0b58" stroke="none" stroke-width="0" /><rect x="261.80" y="810.60" width="4.40" height="7.80" fill="#0b0b58" stroke="none" stroke-width="0" /><rect x="316.80" y="810.60" width="2.00" height="7.80" fill="#0b0b58" stroke="none" stroke-width="0" /><rect x="321.30" y="810.60" width="3.00" height="7.80" fill="#0b0b58" stroke="none" stroke-width="0" /><rect x="328.00" y="810.60" width="2.50" height="7.80" fill="#0b0b58" stroke="none" stroke-width="0" /><rect x="343.70" y="810.60" width="2.60" height="7.80" fill="#0b0b58" stroke="none" stroke-width="0" /><rect x="348.40" y="810.60" width="2.40" height="7.80" fill="#0b0b58" stroke="none" stroke-width="0" /><rect x="394.70" y="810.60" width="1.20" height="7.80" fill="#0b0b58" stroke="none" stroke-width="0" /><rect x="398.70" y="810.60" width="4.10" height="7.80" fill="#0b0b58" stroke="none" stroke-width="0" /><rect x="408.90" y="810.60" width="2.70" height="7.80" fill="#0b0b58" stroke="none" stroke-width="0" /><rect x="419.10" y="810.60" width="0.90" height="7.80" fill="#0b0b58" stroke="none" stroke-width="0" /><rect x="422.20" y="810.60" width="1.00" height="7.80" fill="#0b0b58" stroke="none" stroke-width="0" /><rect x="451.70" y="810.60" width="2.90" height="7.80" fill="#0b0b58" stroke="none" stroke-width="0" /><rect x="456.60" y="810.60" width="4.10" height="7.80" fill="#0b0b58" stroke="none" stroke-width="0" /><rect x="481.30" y="810.60" width="2.60" height="7.80" fill="#0b0b58" stroke="none" stroke-width="0" /><rect x="591.10" y="810.60" width="4.30" height="7.80" fill="#0b0b58" stroke="none" stroke-width="0" /><rect x="618.20" y="810.60" width="3.30" height="7.80" fill="#0b0b58" stroke="none" stroke-width="0" /><rect x="630.50" y="810.60" width="3.20" height="7.80" fill="#0b0b58" stroke="none" stroke-width="0" /><rect x="636.60" y="810.60" width="2.40" height="7.80" fill="#0b0b58" stroke="none" stroke-width="0" /><rect x="662.50" y="810.60" width="3.40" height="7.80" fill="#0b0b58" stroke="none" stroke-width="0" /><rect x="667.70" y="810.60" width="3.70" height="7.80" fill="#0b0b58" stroke="none" stroke-width="0" /><rect x="714.30" y="810.60" width="4.80" height="7.80" fill="#0b0b58" stroke="none" stroke-width="0" /><rect x="737.90" y="810.60" width="3.30" height="7.80" fill="#0b0b58" stroke="none" stroke-width="0" /><rect x="753.20" y="810.60" width="5.00" height="7.80" fill="#0b0b58" stroke="none" stroke-width="0" /><rect x="760.10" y="810.60" width="2.70" height="7.80" fill="#0b0b58" stroke="none" stroke-width="0" /><rect x="764.10" y="810.60" width="3.70" height="7.80" fill="#0b0b58" stroke="none" stroke-width="0" /><rect x="770.20" y="810.60" width="1.90" height="7.80" fill="#0b0b58" stroke="none" stroke-width="0" /><rect x="774.80" y="810.60" width="3.20" height="7.80" fill="#0b0b58" stroke="none" stroke-width="0" /><rect x="778.00" y="812.30" width="5.30" height="4.40" fill="#0b0b58" stroke="none" stroke-width="0" /><rect x="1.20" y="777.00" width="5.70" height="4.40" fill="#0b0b58" stroke="none" stroke-width="0" /><rect x="3.80" y="785.90" width="3.80" height="4.40" fill="#0b0b58" stroke="none" stroke-width="0" /><rect x="3.80" y="794.60" width="3.80" height="4.40" fill="#0b0b58" stroke="none" stroke-width="0" /><rect x="5.00" y="803.40" width="2.60" height="4.40" fill="#0b0b58" stroke="none" stroke-width="0" /><rect x="696.30" y="784.20" width="4.70" height="7.80" fill="#0b0b58" stroke="none" stroke-width="0" /><rect x="724.00" y="792.90" width="3.70" height="7.80" fill="#0b0b58" stroke="none" stroke-width="0" /><rect x="724.00" y="810.60" width="3.70" height="7.80" fill="#0b0b58" stroke="none" stroke-width="0" /><text x="1.20" y="820.20" font-size="9.6" fill="#1f1f78" text-anchor="start" font-weight="normal" >ITGB4</text><line x1="650.20" y1="824.10" x2="783.70" y2="824.10" stroke="#5c5c9c" stroke-width="1.5" /><rect x="650.20" y="822.50" width="2.60" height="3.20" fill="#0b0b58" stroke="none" stroke-width="0" /><polyline points="697.4,821.5 693.6,824.1 697.4,826.7" fill="none" stroke="#0b0b58" stroke-width="0.9"/><text x="650.20" y="836.60" font-size="9.6" fill="#1f1f78" text-anchor="start" font-weight="normal" >GALK1</text>
</svg></body></html>
